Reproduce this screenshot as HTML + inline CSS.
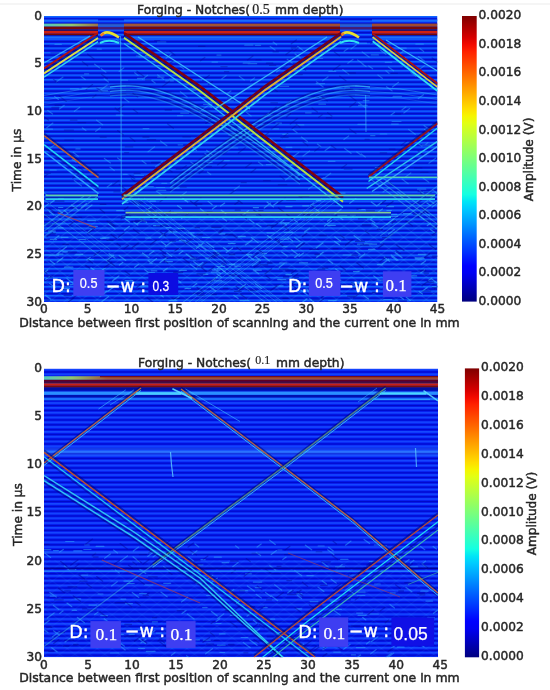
<!DOCTYPE html>
<html><head><meta charset="utf-8"><title>Forging - Notches</title>
<style>html,body{margin:0;padding:0;background:#fff;width:550px;height:690px;overflow:hidden}svg{display:block;filter:blur(0.45px)}</style>
</head><body>
<svg width="550" height="690" viewBox="0 0 550 690" font-family="'DejaVu Sans', 'Liberation Sans', sans-serif">
<defs><linearGradient id="jet" x1="0" y1="0" x2="0" y2="1"><stop offset="0.000" stop-color="#7f0000"/><stop offset="0.025" stop-color="#9c0000"/><stop offset="0.050" stop-color="#b90000"/><stop offset="0.075" stop-color="#d60000"/><stop offset="0.100" stop-color="#f30900"/><stop offset="0.125" stop-color="#ff2100"/><stop offset="0.150" stop-color="#ff3800"/><stop offset="0.175" stop-color="#ff5000"/><stop offset="0.200" stop-color="#ff6700"/><stop offset="0.225" stop-color="#ff7f00"/><stop offset="0.250" stop-color="#ff9700"/><stop offset="0.275" stop-color="#ffae00"/><stop offset="0.300" stop-color="#ffc600"/><stop offset="0.325" stop-color="#ffdd00"/><stop offset="0.350" stop-color="#f6f500"/><stop offset="0.375" stop-color="#e2ff14"/><stop offset="0.400" stop-color="#cdff29"/><stop offset="0.425" stop-color="#b9ff3d"/><stop offset="0.450" stop-color="#a4ff52"/><stop offset="0.475" stop-color="#8fff66"/><stop offset="0.500" stop-color="#7bff7b"/><stop offset="0.525" stop-color="#66ff8f"/><stop offset="0.550" stop-color="#52ffa4"/><stop offset="0.575" stop-color="#3dffb9"/><stop offset="0.600" stop-color="#29ffcd"/><stop offset="0.625" stop-color="#14ffe2"/><stop offset="0.650" stop-color="#00e5f6"/><stop offset="0.675" stop-color="#00cbff"/><stop offset="0.700" stop-color="#00b2ff"/><stop offset="0.725" stop-color="#0099ff"/><stop offset="0.750" stop-color="#007fff"/><stop offset="0.775" stop-color="#0065ff"/><stop offset="0.800" stop-color="#004cff"/><stop offset="0.825" stop-color="#0033ff"/><stop offset="0.850" stop-color="#0019ff"/><stop offset="0.875" stop-color="#0000ff"/><stop offset="0.900" stop-color="#0000f3"/><stop offset="0.925" stop-color="#0000d6"/><stop offset="0.950" stop-color="#0000b9"/><stop offset="0.975" stop-color="#00009c"/><stop offset="1.000" stop-color="#00007f"/></linearGradient>
<pattern id="bg1" patternUnits="userSpaceOnUse" x="0" y="16" width="8" height="4.5"><rect width="8" height="4.5" fill="#0620f6"/><rect y="0" width="8" height="1.5" fill="#1068ff"/><rect y="2.5" width="8" height="1.3" fill="#000cc0"/></pattern>
<pattern id="bg2" patternUnits="userSpaceOnUse" x="0" y="368.6" width="8" height="4.8"><rect width="8" height="4.8" fill="#061cf8"/><rect y="0" width="8" height="1.7" fill="#1448ff"/><rect y="2.7" width="8" height="1.4" fill="#0008c8"/></pattern>
<pattern id="hA" patternUnits="userSpaceOnUse" width="9" height="9" patternTransform="rotate(37)"><rect y="0" width="9" height="1.1" fill="#30c0ff"/></pattern>
<pattern id="hB" patternUnits="userSpaceOnUse" width="9" height="9" patternTransform="rotate(-37)"><rect y="0" width="9" height="1.1" fill="#30c0ff"/></pattern>
<linearGradient id="row1g" gradientUnits="userSpaceOnUse" x1="44" y1="0" x2="438" y2="0"><stop offset="0" stop-color="#50c8c0"/><stop offset="0.07" stop-color="#90c870"/><stop offset="0.16" stop-color="#a05838"/><stop offset="1" stop-color="#a04830"/></linearGradient>
<clipPath id="c1"><rect x="44" y="16" width="393.5" height="286"/></clipPath>
<clipPath id="c2"><rect x="44" y="368.6" width="394" height="288.7"/></clipPath>
</defs>
<rect x="0.00" y="0.00" width="550.00" height="690.00" fill="#ffffff"/>
<rect x="0.00" y="3.40" width="550.00" height="1.20" fill="#eeeeee"/>
<g clip-path="url(#c1)">
<rect x="44.00" y="16.00" width="393.50" height="286.00" fill="url(#bg1)"/>
<rect x="44.00" y="215.00" width="393.50" height="87.00" fill="url(#hA)" fill-opacity="0.15"/>
<rect x="44.00" y="215.00" width="393.50" height="87.00" fill="url(#hB)" fill-opacity="0.15"/>
<path d="M93.0,286.4 L100.8,286.4 M216.9,266.5 L224.8,266.5 M369.0,244.1 L376.8,244.1 M324.4,226.0 L331.4,220.7 M49.7,255.2 L58.4,255.2 M208.1,201.4 L212.1,204.5 M133.7,222.0 L137.8,225.1 M49.7,283.4 L55.2,287.5 M160.0,262.5 L166.7,257.4 M273.7,205.1 L277.9,202.0 M109.1,253.7 L115.1,258.2 M213.6,249.5 L219.9,254.2 M343.1,255.0 L351.4,255.0 M415.6,258.9 L421.9,258.9 M332.8,280.6 L338.0,284.5 M62.7,288.7 L69.5,288.7 M282.9,246.7 L287.1,246.7 M140.8,285.9 L148.1,285.9 M177.6,205.7 L181.4,208.5 M148.3,272.6 L154.5,272.6 M50.2,239.4 L56.4,239.4 M50.3,203.2 L54.1,200.4 M355.9,251.2 L360.0,254.2 M267.0,232.8 L274.2,232.8 M422.7,291.0 L427.1,287.6 M410.6,275.9 L416.7,275.9 M107.9,291.2 L115.0,285.9 M190.7,233.9 L194.7,236.9 M116.7,210.7 L124.1,210.7 M167.8,288.9 L176.3,288.9 M169.0,300.7 L176.9,300.7 M277.3,285.8 L283.1,285.8 M381.8,264.2 L388.8,259.0 M190.2,258.2 L195.3,258.2 M391.1,255.0 L398.0,260.2 M352.1,283.2 L355.3,285.7 M254.0,270.2 L261.3,270.2 M217.4,268.7 L223.1,264.3 M157.6,292.6 L161.4,289.8 M335.7,268.9 L339.6,271.8 M359.4,258.0 L364.7,254.0 M205.8,258.2 L210.1,258.2 M89.2,226.4 L97.3,226.4 M283.4,222.6 L286.6,225.0 M296.3,246.9 L302.3,242.5 M398.7,292.0 L403.0,295.2 M388.5,234.0 L394.4,229.6 M419.4,258.3 L424.2,258.3 M179.0,254.0 L182.9,251.1 M316.2,248.0 L323.1,242.8 M357.5,244.2 L362.3,244.2 M399.8,296.5 L403.5,299.2 M88.4,231.7 L92.6,228.6 M370.5,219.4 L374.9,222.7 M424.5,212.0 L429.7,215.9 M238.6,236.4 L245.3,236.4 M234.8,266.1 L240.7,266.1 M149.9,263.5 L156.6,258.5 M430.7,229.7 L434.6,232.6 M183.1,198.6 L187.8,202.1 M373.8,275.9 L380.2,280.7 M144.8,269.7 L151.5,274.7 M368.6,249.4 L374.9,249.4 M334.7,241.4 L339.4,244.8 M280.0,222.8 L284.1,219.8 M70.2,284.7 L76.8,284.7 M148.1,260.6 L152.2,263.7 M165.4,246.4 L171.7,241.7 M328.4,260.2 L332.7,263.4 M96.0,274.7 L100.7,271.3 M323.8,273.3 L329.4,273.3 M421.1,264.3 L425.7,260.8 M314.2,207.9 L319.0,211.5 M432.1,207.1 L438.5,202.3 M338.2,215.5 L346.8,215.5 M302.7,205.8 L308.6,205.8 M58.6,227.9 L63.1,227.9 M193.8,261.7 L200.9,267.0 M262.3,253.3 L266.6,253.3 M100.1,296.2 L106.7,291.2 M56.7,254.2 L62.9,254.2 M320.8,288.8 L324.1,291.2 M161.4,241.8 L165.6,244.9 M173.8,277.3 L180.8,282.6 M316.6,257.2 L323.3,252.1 M102.5,237.8 L109.1,237.8 M267.0,202.0 L273.5,206.9 M159.1,237.7 L163.6,234.3 M246.7,215.2 L255.3,215.2 M198.9,244.7 L206.0,250.1 M99.7,272.1 L105.1,268.1 M203.6,274.3 L207.9,274.3 M146.4,209.3 L150.7,212.5 M71.6,205.0 L78.2,209.9 M325.1,283.0 L334.1,283.0 M335.2,276.6 L340.5,280.5 M222.2,217.7 L226.6,221.0 M255.0,256.3 L260.4,260.4 M363.7,295.4 L368.5,299.1 M393.5,294.4 L401.8,294.4 M354.1,235.7 L360.3,240.3 M221.2,210.2 L225.8,213.6 M108.4,224.1 L115.0,229.0 M212.0,281.2 L217.2,277.3 M377.9,280.2 L385.3,280.2 M304.5,232.0 L309.7,228.1 M377.6,212.6 L382.4,209.0 M245.5,245.0 L252.3,240.0 M406.2,297.2 L410.4,300.4 M418.3,254.3 L425.3,254.3 M151.4,270.9 L156.8,270.9 M293.6,282.8 L302.1,282.8 M171.5,213.0 L176.2,213.0 M253.3,269.7 L258.8,273.7 M119.1,255.4 L125.8,260.4 M48.4,231.1 L55.4,231.1 M309.6,298.8 L314.1,302.2 M310.3,205.5 L313.8,202.9 M166.6,227.5 L170.9,227.5 M149.4,254.2 L153.9,250.9 M251.4,237.6 L258.2,242.7 M62.8,251.9 L67.7,251.9 M256.7,223.9 L261.0,227.1 M200.3,208.8 L205.0,212.3 M255.3,283.8 L261.4,288.4 M163.3,271.0 L167.2,268.2 M386.7,224.5 L393.2,219.6 M389.5,216.3 L397.8,216.3 M63.3,249.3 L66.6,246.8 M58.7,209.9 L62.4,212.7 M181.6,218.5 L187.9,213.8 M214.7,269.2 L220.4,273.5 M306.9,289.5 L310.8,292.4 M192.9,286.5 L196.8,283.6 M173.1,301.1 L179.0,296.7 M226.3,252.6 L232.6,247.9 M100.7,238.4 L105.3,238.4 M113.1,280.3 L118.9,275.9 M101.9,301.6 L108.4,296.7 M197.0,267.0 L203.1,262.3 M419.1,215.8 L424.7,220.0 M299.1,256.3 L303.3,253.2 M294.7,237.4 L300.1,241.5 M427.3,225.6 L430.5,223.2 M166.8,252.7 L171.8,256.4 M285.9,274.6 L291.6,274.6 M178.3,228.5 L184.6,228.5 M140.2,217.6 L146.7,222.4 M210.1,286.9 L215.7,291.0 M119.3,265.1 L122.8,262.5 M334.7,236.8 L340.7,241.3 M253.3,207.6 L258.5,207.6 M302.1,302.4 L306.7,298.9 M164.7,280.2 L171.7,285.5 M377.4,264.6 L382.7,264.6 M88.8,294.7 L94.9,290.2 M403.5,213.7 L411.1,213.7 M87.7,220.6 L95.5,220.6 M238.3,289.9 L245.4,284.6 M220.6,206.1 L224.7,203.1 M406.0,291.3 L409.5,294.0 M206.8,242.4 L213.8,247.7 M428.5,280.5 L431.9,277.9 M370.3,219.5 L374.1,216.6 M57.4,253.8 L64.5,248.4 M431.5,278.8 L438.1,283.7 M228.3,243.5 L235.2,243.5 M87.0,259.8 L90.3,257.3 M186.1,254.0 L191.8,258.3 M432.3,286.9 L439.3,286.9 M147.0,210.1 L151.3,206.9 M124.3,230.2 L129.4,226.3 M383.7,299.5 L391.8,299.5 M406.4,286.3 L410.2,289.1 M57.1,262.2 L62.9,257.8 M45.8,279.3 L49.4,276.7 M249.7,219.7 L254.0,223.0 M158.4,293.3 L163.3,297.0 M211.3,272.2 L217.0,272.2 M247.2,255.1 L253.6,259.9 M287.8,237.3 L292.7,241.0 M349.7,203.2 L355.9,198.5 M91.0,267.8 L98.0,273.1 M420.7,272.9 L424.7,270.0 M267.7,235.7 L272.1,239.0 M279.6,263.0 L286.8,263.0 M53.6,239.8 L59.0,235.8 M165.5,261.6 L172.4,261.6 M149.9,201.2 L155.4,201.2 M145.6,238.0 L150.7,238.0 M241.8,215.8 L248.7,210.6 M42.2,208.6 L48.3,204.0 M44.7,254.9 L50.4,254.9 M125.0,218.8 L129.4,222.1 M219.1,233.8 L225.1,233.8 M214.5,280.9 L221.8,280.9 M334.1,214.5 L341.1,209.2 M153.5,225.7 L159.6,225.7 M299.4,262.8 L307.7,262.8 M85.6,209.8 L92.0,205.0 M402.4,294.9 L410.2,294.9 M179.3,240.4 L185.6,240.4 M106.8,260.3 L113.5,255.3 M134.7,267.3 L138.6,264.3 M327.4,221.3 L332.1,217.8 M174.2,212.3 L183.0,212.3 M316.3,200.7 L320.8,200.7 M391.8,214.4 L396.9,214.4 M395.2,252.5 L402.0,257.6 M384.4,257.3 L389.5,261.2 M212.4,209.1 L216.4,206.1 M123.0,216.7 L128.9,216.7 M429.5,200.2 L433.9,203.5 M61.2,237.4 L68.0,237.4 M391.8,256.5 L396.9,260.4 M64.6,267.2 L72.9,267.2 M168.8,231.9 L176.9,231.9 M233.7,295.3 L238.1,298.6 M263.7,256.6 L269.4,260.9 M196.5,248.3 L203.0,243.4 M327.6,225.3 L335.3,225.3 M212.6,270.1 L219.9,270.1 M415.0,257.9 L423.9,257.9 M240.0,300.7 L249.0,300.7 M153.6,217.0 L156.8,214.6 M190.5,264.5 L196.6,269.1 M79.2,239.5 L85.4,239.5 M377.6,205.2 L381.6,202.2 M112.3,281.2 L117.7,277.1 M81.5,207.4 L86.5,203.6 M280.4,222.9 L288.5,222.9 M386.9,210.5 L391.4,210.5 M188.7,232.8 L194.1,232.8 M217.0,273.9 L221.5,277.2 M337.7,215.8 L342.9,219.7 M223.6,247.6 L228.4,251.2 M398.0,279.2 L402.5,275.8 M277.7,279.6 L285.9,279.6 M280.8,239.2 L288.3,239.2 M359.0,209.5 L365.1,209.5 M328.5,300.7 L336.2,300.7 M88.8,259.7 L93.5,259.7 M353.5,271.6 L359.1,271.6 M75.9,254.4 L82.7,254.4 M95.4,291.2 L101.1,291.2 M44.3,272.4 L47.7,269.9 M353.8,283.0 L361.7,283.0 M202.5,237.5 L209.3,237.5 M264.2,208.0 L270.6,203.1 M300.8,290.0 L307.1,294.8 M220.2,268.3 L225.5,272.2 M372.1,222.9 L377.9,227.2 M49.3,211.6 L53.7,214.9 M66.9,278.6 L74.0,283.9 M294.7,257.4 L299.5,253.8 M229.1,264.3 L234.6,264.3 M285.8,206.6 L292.1,206.6 M279.3,267.3 L285.2,262.8 M281.7,252.0 L287.2,256.1 M64.2,210.6 L67.5,213.1 M350.9,217.9 L354.7,215.1 M179.5,270.4 L186.3,270.4 M50.4,260.7 L54.7,263.9 M364.0,243.8 L372.2,243.8 M185.0,288.5 L190.6,288.5 M293.1,219.0 L297.4,222.2 M399.7,280.4 L404.8,276.7 M132.5,200.5 L138.9,205.3 M307.0,290.6 L310.5,293.2 M58.6,207.5 L62.8,207.5 M252.2,265.8 L258.8,260.8 M350.3,215.1 L355.5,215.1 M284.2,232.3 L292.8,232.3 M125.2,280.6 L132.7,280.6 M291.6,249.8 L297.9,254.6 M45.3,295.3 L50.4,299.1 M137.0,224.0 L142.6,219.7 M426.9,203.0 L430.4,205.6 M74.8,255.0 L79.8,255.0 M142.5,252.9 L149.2,257.9 M123.8,202.6 L128.1,202.6 M386.2,206.6 L393.6,206.6 M419.1,291.5 L422.4,294.0 M246.6,254.4 L251.4,254.4 M371.3,202.0 L376.8,206.1" stroke="#38b8ff" stroke-width="1.2" fill="none" stroke-opacity="0.55" stroke-linecap="round"/>
<path d="M432.3,287.7 L436.9,287.7 M321.4,297.4 L326.3,293.7 M235.0,204.3 L238.4,201.8 M275.5,238.7 L279.4,241.6 M417.5,203.0 L423.8,198.2 M232.5,234.7 L237.1,238.1 M270.8,290.2 L277.2,285.4 M47.1,277.1 L52.4,277.1 M396.1,250.5 L400.1,253.5 M317.9,269.2 L324.6,269.2 M386.5,206.3 L393.0,201.4 M305.1,285.4 L313.7,285.4 M309.9,249.4 L318.8,249.4 M73.0,217.3 L81.6,217.3 M258.8,210.6 L263.0,210.6 M351.8,282.8 L356.4,286.2 M87.2,290.3 L91.4,290.3 M207.3,211.8 L212.1,211.8 M82.1,294.7 L86.8,291.1 M156.5,225.8 L162.9,225.8 M55.1,201.1 L64.0,201.1 M219.3,233.2 L222.7,230.7 M423.6,209.8 L427.6,212.9 M162.7,225.1 L167.1,225.1 M162.5,235.1 L167.0,231.7 M160.5,232.1 L165.8,236.1 M137.8,202.1 L143.1,202.1 M68.3,207.7 L75.5,207.7 M236.2,286.6 L240.0,289.4 M72.4,298.3 L76.3,295.4 M365.5,231.3 L369.1,234.0 M165.2,294.5 L171.6,289.7 M322.7,268.1 L327.9,268.1 M197.1,234.5 L202.4,234.5 M236.8,247.3 L240.9,250.4 M68.0,252.2 L76.3,252.2 M317.2,277.2 L322.7,273.0 M266.4,276.0 L269.8,278.6 M426.5,282.4 L433.7,282.4 M418.4,216.6 L424.7,211.8 M117.1,243.5 L120.3,246.0 M271.5,227.8 L277.5,223.4 M424.5,257.6 L429.7,253.7 M265.8,239.1 L271.2,239.1 M87.8,278.2 L93.2,274.2 M218.5,232.9 L223.3,229.3 M429.1,244.6 L435.7,249.5 M379.8,261.9 L386.0,257.3 M235.0,273.9 L240.8,278.2 M201.3,266.3 L207.0,262.0 M240.6,294.3 L246.5,298.7 M331.0,219.4 L336.8,215.0 M351.9,288.4 L357.6,288.4 M320.4,287.3 L323.7,284.8 M286.7,214.2 L293.8,219.6 M235.3,210.2 L240.2,210.2 M392.1,223.3 L395.4,220.8 M107.1,221.2 L113.6,226.1 M125.1,271.2 L129.6,274.6 M190.5,259.2 L199.1,259.2 M372.4,292.4 L376.6,292.4 M291.9,278.2 L297.8,273.7 M64.2,295.4 L71.2,295.4 M120.0,287.9 L124.9,291.6 M332.6,273.6 L340.4,273.6 M76.7,282.9 L83.1,282.9 M356.9,208.8 L361.0,208.8 M164.1,215.7 L170.4,210.9 M297.2,248.4 L304.4,243.1 M68.5,301.8 L73.7,298.0 M422.1,285.8 L429.0,280.6 M94.2,255.5 L99.7,251.4 M318.3,277.9 L322.9,274.4 M380.8,204.0 L385.5,200.5 M152.9,293.0 L158.5,288.8 M208.7,270.9 L214.1,266.9 M387.9,281.2 L394.8,281.2 M87.9,233.4 L94.6,228.3 M160.0,249.6 L165.6,253.7 M104.5,267.6 L111.7,262.2 M185.5,243.6 L192.4,238.4 M434.0,228.3 L439.2,224.3 M424.1,273.1 L428.5,273.1 M132.1,201.1 L136.3,204.2 M197.0,273.8 L205.1,273.8 M432.5,256.1 L439.2,256.1 M422.8,208.5 L428.2,212.6 M88.5,225.4 L92.8,228.7 M234.4,291.3 L241.2,291.3 M175.0,250.8 L178.3,248.4 M340.4,285.9 L345.6,285.9 M204.0,211.8 L208.0,214.8 M225.6,234.5 L232.7,234.5 M315.0,254.5 L319.3,254.5 M50.8,233.6 L55.4,233.6 M197.5,295.2 L204.7,295.2 M356.9,262.9 L363.5,267.9 M200.6,267.1 L206.3,271.4 M88.2,259.7 L92.5,262.9 M278.0,203.5 L285.1,198.2 M190.0,254.8 L196.7,259.8 M276.1,240.5 L283.0,245.7 M147.2,297.8 L154.0,302.9 M362.5,225.0 L370.6,225.0 M387.3,237.5 L393.1,233.1 M63.0,244.4 L68.8,244.4 M173.7,272.5 L182.6,272.5 M214.6,257.3 L220.1,253.2 M194.6,202.9 L201.0,198.1 M302.5,236.5 L306.7,233.4 M353.5,297.7 L359.6,293.2 M150.6,244.5 L156.2,240.3 M107.0,240.3 L112.9,240.3 M182.9,217.5 L188.4,213.4 M319.8,235.5 L326.5,235.5 M124.0,248.9 L128.4,245.6 M283.4,277.0 L288.7,277.0 M282.6,225.1 L288.3,229.5 M146.9,210.0 L155.1,210.0 M242.1,253.2 L247.1,253.2 M396.9,245.4 L403.9,250.6 M273.7,288.4 L278.1,285.2 M345.6,245.0 L352.8,239.6 M291.1,284.5 L296.1,288.3 M42.5,216.4 L48.2,216.4 M100.1,209.3 L104.6,212.7 M290.1,285.2 L294.3,282.0 M267.6,263.1 L272.0,263.1 M335.9,204.6 L340.4,201.3 M424.6,220.1 L429.2,220.1 M89.7,227.2 L94.7,227.2 M172.0,298.3 L179.6,298.3 M45.6,300.1 L49.8,300.1 M195.8,266.6 L200.7,266.6 M49.3,208.5 L55.0,212.8 M316.6,284.7 L323.6,279.4 M258.0,249.2 L263.1,253.0 M378.8,247.8 L383.8,244.0 M164.4,260.4 L167.8,262.9 M132.3,247.6 L138.3,243.1 M47.1,236.6 L52.7,232.4 M124.2,209.7 L127.9,207.0 M223.4,288.4 L227.8,288.4 M123.1,218.2 L130.3,212.8 M42.4,270.2 L46.8,273.5 M238.1,291.1 L244.3,286.4 M131.7,221.5 L140.1,221.5 M293.3,277.7 L298.4,277.7 M78.3,281.1 L86.7,281.1 M100.3,204.4 L105.8,204.4 M140.8,218.1 L145.4,221.6 M136.9,287.2 L143.6,282.2 M221.8,264.0 L226.4,264.0 M209.2,258.6 L215.9,253.6 M311.4,205.6 L315.3,208.5 M383.3,285.1 L389.6,289.9 M283.0,298.4 L288.1,298.4 M169.8,241.1 L175.6,241.1 M279.7,269.2 L288.1,269.2 M118.5,237.0 L124.0,232.9 M166.7,277.7 L172.2,273.6 M211.2,294.6 L216.3,294.6 M179.8,238.5 L185.0,242.5 M264.9,273.9 L271.7,268.8 M236.9,199.3 L242.3,203.4 M107.4,261.3 L110.8,258.8 M340.3,235.0 L344.2,237.9 M43.1,223.9 L51.5,223.9 M432.2,235.1 L436.1,232.2 M162.8,254.7 L167.7,258.4 M107.3,260.2 L114.3,265.4 M360.6,245.1 L368.8,245.1 M193.4,293.1 L201.3,293.1 M405.9,221.0 L412.5,225.9 M241.0,214.7 L246.4,218.8 M333.2,248.7 L337.9,248.7 M253.5,256.4 L258.0,253.0 M260.2,264.8 L267.8,264.8 M135.4,220.4 L142.3,220.4 M183.4,258.5 L189.2,262.9 M377.3,229.4 L382.4,229.4 M305.2,219.7 L310.0,216.1 M254.3,267.3 L260.4,262.8 M121.6,216.2 L130.5,216.2 M109.9,222.0 L115.1,225.9 M248.4,290.5 L256.0,290.5 M81.6,270.6 L88.8,276.0 M303.6,214.6 L309.4,214.6 M134.7,199.9 L140.6,204.3 M210.8,282.0 L215.7,278.3 M278.5,207.9 L283.8,211.9 M228.8,274.8 L235.0,274.8 M382.5,237.7 L387.0,237.7 M85.9,265.4 L89.5,268.1 M133.4,229.2 L139.1,233.5 M194.8,204.2 L201.8,204.2 M211.8,227.4 L220.8,227.4 M229.3,254.5 L234.7,254.5 M221.3,258.2 L225.2,261.2 M340.5,266.2 L345.4,269.8 M422.7,291.1 L430.8,291.1 M351.9,255.2 L357.4,255.2 M434.5,288.7 L439.5,284.9 M253.7,210.1 L260.8,215.4 M419.0,270.5 L425.8,270.5 M267.2,225.3 L275.5,225.3 M358.5,218.9 L366.3,218.9 M398.4,301.0 L406.4,301.0 M312.6,299.9 L319.2,299.9 M395.6,279.7 L399.6,279.7 M316.6,304.1 L323.4,299.1 M190.6,201.2 L196.9,205.9 M93.0,289.6 L98.7,285.3 M213.4,252.6 L217.9,252.6 M111.1,234.4 L116.8,238.7 M212.0,258.3 L216.9,254.6 M413.7,214.4 L418.3,214.4 M366.6,210.9 L374.5,210.9 M347.5,296.2 L356.0,296.2 M355.6,241.4 L364.4,241.4 M91.6,275.5 L98.7,280.8 M288.9,287.8 L293.1,291.0 M291.4,273.2 L295.9,269.9 M169.4,229.6 L172.6,232.0 M121.0,218.9 L126.4,214.8 M69.1,225.5 L74.4,221.6 M179.4,229.3 L183.6,229.3 M138.6,288.7 L143.5,288.7 M285.6,270.0 L292.9,270.0 M52.8,225.1 L57.9,221.3 M45.4,214.1 L49.5,214.1 M150.6,218.4 L157.0,218.4 M197.1,287.5 L203.2,292.1 M195.2,227.7 L199.4,227.7 M60.5,285.8 L68.9,285.8" stroke="#000090" stroke-width="1.3" fill="none" stroke-opacity="0.45" stroke-linecap="round"/>
<path d="M432.8,189.9 L438.1,193.9 M55.0,44.4 L61.3,44.4 M391.5,124.1 L398.3,124.1 M104.4,158.4 L110.5,162.9 M234.2,189.9 L239.4,186.0 M107.2,186.9 L111.5,183.7 M117.6,157.9 L121.0,160.5 M54.6,96.5 L58.5,99.4 M415.8,44.1 L423.4,44.1 M362.1,63.7 L366.0,66.6 M58.6,198.4 L63.4,198.4 M283.8,158.8 L288.4,158.8 M166.0,58.2 L171.0,54.5 M97.2,49.1 L101.4,49.1 M356.8,151.9 L361.0,155.1 M136.3,56.0 L141.2,56.0 M246.7,112.6 L251.1,116.0 M397.7,191.8 L403.8,196.4 M270.2,46.4 L275.1,50.0 M279.8,86.3 L288.7,86.3 M47.8,110.4 L52.6,114.0 M72.1,159.3 L76.1,162.3 M223.3,160.6 L229.3,160.6 M50.6,147.8 L56.9,143.1 M180.7,113.1 L188.7,113.1 M157.6,77.1 L164.0,77.1 M308.5,189.1 L314.0,184.9 M182.2,198.2 L186.0,201.1 M74.3,180.6 L81.5,186.0 M157.7,74.9 L163.6,79.3 M388.4,66.9 L393.6,70.8 M342.7,69.6 L348.9,74.2 M357.6,59.9 L363.3,64.2 M264.7,116.2 L268.8,113.2 M232.0,148.0 L237.7,148.0 M94.7,64.2 L99.4,67.8 M43.7,129.2 L52.5,129.2 M160.5,141.0 L166.9,145.8 M371.2,54.9 L378.4,54.9 M375.3,167.7 L382.4,167.7 M221.9,78.8 L226.2,75.5 M363.2,100.7 L369.0,100.7 M403.8,112.9 L409.6,108.6 M81.2,76.6 L85.2,79.5 M383.0,192.0 L389.2,187.4 M286.0,147.3 L291.9,147.3 M418.3,98.6 L423.4,94.7 M420.0,60.3 L424.1,60.3 M402.0,179.0 L408.2,183.7 M98.9,90.6 L107.6,90.6 M121.4,80.2 L127.5,80.2 M137.5,78.4 L144.5,78.4 M344.2,51.3 L348.0,48.5 M347.8,63.2 L353.1,59.3 M343.9,139.5 L348.7,135.9 M219.6,105.9 L226.2,105.9 M70.4,88.9 L78.4,88.9 M180.1,66.3 L183.9,69.1 M424.6,145.2 L428.0,142.6 M231.6,128.0 L235.3,130.8 M385.3,62.4 L391.7,62.4 M84.5,73.9 L88.7,73.9 M285.6,179.9 L292.4,174.8 M124.6,98.7 L129.0,102.0 M197.5,165.2 L203.9,170.1 M317.4,144.1 L320.7,146.6 M370.7,135.7 L374.9,135.7 M316.4,81.8 L323.2,86.9 M205.0,153.4 L210.0,157.2 M316.1,83.6 L324.6,83.6 M253.1,104.8 L258.4,100.8 M344.7,148.5 L351.0,153.3 M177.5,115.7 L182.7,115.7 M116.2,115.1 L123.0,115.1 M157.5,42.0 L165.9,42.0 M165.7,80.9 L173.3,80.9 M207.4,172.1 L210.7,174.6 M100.0,90.5 L107.1,85.2 M318.1,182.0 L323.7,177.8 M134.6,72.8 L138.1,75.4 M286.1,104.5 L291.0,100.7 M228.3,100.8 L233.4,100.8 M362.2,51.9 L369.1,57.1 M318.9,104.2 L325.5,104.2 M127.8,44.0 L134.2,44.0 M82.4,127.9 L85.9,130.6 M180.3,91.8 L187.2,97.0 M392.1,121.5 L401.0,121.5 M380.6,50.3 L385.9,54.3 M56.6,81.8 L63.0,77.1 M398.3,57.7 L405.3,57.7 M116.3,39.2 L121.1,42.8 M297.8,46.4 L303.1,50.4 M401.5,58.4 L406.4,62.1 M424.5,129.5 L429.8,133.5 M292.9,129.6 L297.1,132.7 M424.0,125.6 L429.5,129.7 M418.5,56.6 L424.1,60.8 M313.9,98.0 L321.9,98.0 M358.6,102.6 L365.4,107.7 M216.9,55.1 L221.0,55.1 M423.0,177.9 L428.8,182.2 M134.7,175.3 L143.6,175.3 M361.2,154.0 L365.3,157.0 M380.2,134.0 L386.8,134.0 M405.1,177.2 L410.8,172.9 M119.1,71.4 L123.9,67.8 M386.5,86.7 L392.0,90.8 M417.9,70.5 L424.3,65.7 M419.9,48.6 L423.7,51.5 M357.9,124.3 L365.9,124.3 M295.9,177.4 L299.7,174.5 M328.9,71.4 L335.7,71.4 M292.0,157.6 L298.7,152.6 M331.4,194.8 L337.4,199.2 M393.1,96.4 L401.4,96.4 M266.3,164.6 L271.5,164.6 M171.9,188.1 L179.1,188.1 M418.5,143.8 L421.9,146.3 M207.1,162.5 L212.2,162.5 M396.7,56.2 L403.2,51.3 M301.4,137.1 L307.4,141.6 M239.3,76.2 L244.3,79.9 M143.1,128.7 L148.8,128.7 M417.6,189.2 L425.8,189.2 M82.0,88.1 L88.1,88.1 M191.2,90.2 L196.0,90.2 M142.5,79.2 L147.7,75.3 M110.0,167.2 L114.3,170.5 M391.0,114.9 L394.6,112.3 M96.6,120.2 L102.7,124.8 M350.9,48.9 L356.4,44.8 M408.7,129.4 L415.2,134.3 M151.8,80.6 L155.1,83.1 M398.3,48.2 L406.2,48.2 M156.2,191.0 L162.0,195.3 M388.2,45.9 L392.7,49.3 M192.8,147.6 L196.6,150.4 M282.8,134.4 L287.3,134.4 M324.5,177.9 L330.7,173.2 M255.3,45.3 L260.6,45.3 M41.5,190.8 L47.0,195.0 M138.9,56.9 L145.3,56.9 M155.4,166.7 L162.4,161.4 M180.6,196.3 L186.3,192.0 M295.1,53.9 L300.4,57.9 M287.1,59.3 L292.2,63.1 M101.2,68.7 L105.9,72.2 M227.7,93.3 L230.9,90.9 M123.1,174.3 L127.3,174.3 M73.1,152.3 L78.4,156.2 M75.9,148.9 L80.1,148.9 M371.0,195.1 L379.1,195.1 M392.4,87.0 L398.6,82.3 M303.0,156.1 L309.7,151.0 M295.6,176.9 L299.1,179.5 M428.9,163.2 L435.6,158.2 M194.3,106.9 L200.5,111.5 M142.0,160.8 L146.0,163.8 M74.4,111.3 L79.8,107.3 M410.8,72.5 L415.9,76.3 M419.8,190.8 L423.1,193.3 M295.7,124.9 L303.8,124.9 M368.8,65.9 L372.7,68.8 M418.4,153.9 L421.8,151.3 M276.6,71.9 L280.0,69.3 M279.2,150.7 L284.8,154.9 M250.5,81.0 L254.7,77.8 M325.2,150.6 L330.2,146.8 M201.8,110.3 L207.4,106.1 M339.8,193.1 L345.1,193.1 M157.7,190.4 L165.8,190.4 M258.4,162.1 L262.7,165.3 M272.3,128.9 L278.5,128.9 M145.2,186.6 L153.3,186.6 M422.1,145.2 L430.0,145.2 M302.8,169.4 L308.2,169.4 M146.2,178.6 L150.2,178.6 M273.1,42.1 L276.7,44.8 M208.0,104.8 L211.5,107.4 M401.9,109.9 L406.0,106.8 M148.1,151.8 L154.7,146.8 M377.9,75.0 L382.3,78.3 M290.6,165.6 L295.1,162.2 M276.0,123.2 L281.5,123.2 M46.8,127.7 L52.9,123.1 M385.8,70.8 L389.0,73.3 M196.5,138.2 L202.7,133.5 M270.2,138.5 L276.1,143.0 M358.5,43.2 L366.5,43.2 M305.5,112.8 L311.2,112.8 M145.6,55.4 L153.1,55.4 M206.5,150.3 L212.9,155.2 M95.7,131.3 L100.4,127.8 M238.3,127.0 L246.4,127.0 M169.2,79.0 L177.4,79.0 M212.0,62.1 L217.5,62.1 M248.2,63.7 L256.7,63.7 M59.5,108.9 L64.3,105.3 M190.8,161.9 L194.1,164.4 M344.8,87.9 L349.5,87.9 M318.5,58.5 L322.7,58.5 M328.3,161.3 L335.0,161.3 M322.7,80.8 L328.1,76.8 M244.8,45.2 L252.9,45.2 M228.7,135.0 L236.5,135.0 M156.5,187.5 L164.7,187.5 M50.1,170.2 L56.2,170.2 M178.1,144.8 L182.8,144.8 M155.0,65.6 L159.1,65.6 M161.8,183.3 L166.8,183.3 M243.2,63.2 L250.1,63.2 M104.1,78.8 L108.4,82.0 M203.6,104.3 L212.0,104.3 M358.5,105.3 L367.2,105.3" stroke="#38b8ff" stroke-width="1.2" fill="none" stroke-opacity="0.4" stroke-linecap="round"/>
<path d="M418.1,191.7 L422.3,191.7 M331.4,145.5 L335.8,148.8 M269.6,65.3 L275.8,65.3 M169.3,63.8 L174.6,59.9 M112.4,185.4 L118.7,180.6 M341.9,168.1 L346.5,164.6 M388.9,182.1 L393.9,185.8 M326.3,117.9 L331.4,117.9 M418.1,151.0 L423.3,154.9 M273.3,88.4 L277.4,91.4 M286.0,54.5 L292.5,49.6 M131.4,178.7 L135.0,181.4 M137.0,71.2 L143.7,76.2 M217.5,164.9 L223.6,160.2 M380.2,152.9 L386.6,152.9 M270.9,102.9 L277.5,102.9 M142.9,137.0 L149.0,137.0 M290.3,124.0 L297.5,118.6 M133.4,109.6 L137.6,112.7 M42.9,45.7 L48.9,45.7 M78.6,166.7 L83.2,170.2 M311.5,57.8 L315.9,54.5 M273.0,51.8 L278.4,51.8 M72.8,178.2 L78.6,173.8 M228.7,195.2 L235.1,190.3 M247.5,59.9 L252.9,55.9 M78.0,122.6 L85.6,122.6 M223.0,154.3 L227.8,150.7 M266.5,63.2 L272.8,63.2 M320.6,187.6 L326.6,192.1 M171.2,161.5 L177.1,157.1 M130.1,137.6 L134.9,141.2 M291.3,43.8 L296.3,40.0 M298.2,171.8 L301.4,169.3 M278.4,184.9 L286.8,184.9 M41.9,115.2 L48.5,120.1 M50.9,52.8 L58.7,52.8 M349.7,106.9 L355.6,102.5 M190.3,110.8 L198.6,110.8 M230.1,126.2 L238.7,126.2 M220.9,66.6 L227.1,66.6 M182.1,168.8 L186.2,165.7 M199.2,173.5 L203.8,170.0 M238.3,153.0 L245.3,147.8 M134.2,173.4 L140.1,173.4 M228.2,140.8 L232.7,137.4 M271.8,128.9 L278.9,123.5 M432.2,57.9 L439.1,63.1 M119.3,184.5 L125.8,189.4 M403.0,67.4 L406.6,64.7 M151.5,162.5 L160.4,162.5 M117.6,130.6 L123.4,134.9 M318.8,117.3 L322.2,114.8 M292.2,128.6 L296.2,125.6 M395.1,114.2 L400.6,114.2 M280.1,176.1 L284.1,179.2 M389.4,149.1 L395.0,149.1 M100.3,137.1 L106.2,137.1 M401.2,145.2 L406.4,141.3 M245.8,167.3 L251.4,163.1 M167.7,123.9 L173.4,128.2 M96.2,87.5 L102.1,91.9 M349.1,95.5 L356.1,100.8 M370.7,43.5 L376.6,39.1 M206.6,166.5 L211.4,166.5 M420.6,172.3 L428.0,172.3 M414.6,167.9 L421.8,167.9 M92.7,97.4 L95.9,94.9 M208.4,84.6 L212.5,81.6 M365.1,139.4 L369.2,139.4 M320.9,95.9 L327.5,100.9 M260.3,127.4 L265.3,123.7 M205.8,123.4 L212.6,118.3 M420.6,193.0 L425.4,196.6 M303.1,142.1 L307.9,145.7 M295.1,162.8 L301.9,167.9 M198.6,46.4 L204.9,46.4 M182.8,136.8 L190.5,136.8 M169.3,50.8 L174.9,55.0 M322.8,46.5 L327.3,49.9 M282.7,68.2 L287.1,64.9 M327.6,112.8 L331.9,116.1 M227.7,97.9 L232.6,97.9 M124.6,152.6 L128.6,152.6 M391.3,73.3 L397.4,73.3 M224.5,71.7 L228.7,71.7 M101.7,74.4 L107.4,78.7 M87.7,54.2 L94.0,58.9 M424.1,192.4 L431.1,192.4 M64.7,140.1 L73.5,140.1 M263.6,180.7 L270.2,180.7 M115.1,108.1 L119.9,111.7 M132.9,93.3 L137.7,96.9 M312.7,173.4 L317.7,173.4 M204.5,119.8 L211.1,114.9 M268.0,91.5 L272.3,91.5 M226.7,142.2 L231.4,142.2 M330.6,199.3 L335.5,195.6 M241.3,182.7 L246.2,182.7 M160.0,201.8 L166.1,197.3 M59.2,96.1 L66.3,101.4 M299.4,65.4 L305.8,70.2 M422.7,133.0 L426.8,133.0 M298.0,163.3 L303.1,159.5 M53.6,79.6 L56.9,82.1 M394.8,54.8 L400.6,59.2 M202.6,80.4 L209.3,75.3 M125.3,146.9 L132.7,146.9 M313.6,180.2 L318.6,180.2 M152.4,51.1 L158.9,56.0 M163.6,52.4 L168.7,56.2 M120.3,94.1 L125.8,94.1 M86.1,89.4 L92.5,84.6 M262.8,137.1 L268.5,132.8 M333.2,70.2 L340.1,65.1 M344.2,169.1 L352.1,169.1 M298.3,195.5 L303.4,199.3 M117.0,110.1 L123.6,105.2 M147.3,139.7 L155.6,139.7 M129.9,175.2 L134.9,178.9 M167.1,168.2 L172.1,171.9 M200.5,60.7 L204.8,57.4 M311.8,179.1 L319.5,179.1 M294.1,51.1 L298.2,48.0 M154.7,40.7 L159.7,40.7 M256.1,59.9 L261.0,59.9 M280.9,137.3 L288.1,137.3 M276.1,140.6 L280.4,140.6 M42.3,178.1 L48.5,173.4 M293.6,74.6 L302.3,74.6 M180.4,187.2 L186.1,187.2 M433.0,123.6 L437.6,123.6 M310.0,51.1 L314.9,54.7 M249.4,141.0 L257.8,141.0 M44.9,173.3 L50.2,173.3 M349.7,128.9 L355.9,133.5 M162.4,86.6 L169.6,81.3 M251.0,172.4 L255.8,168.8 M145.5,80.0 L151.0,80.0 M291.3,48.0 L295.8,48.0 M176.1,169.0 L181.2,169.0 M70.4,120.1 L77.0,120.1 M51.9,107.5 L58.6,107.5 M292.7,149.3 L300.1,149.3 M314.8,151.1 L320.1,147.1 M270.9,111.2 L276.2,107.2 M345.9,89.5 L352.9,89.5 M313.1,97.3 L318.5,97.3 M286.7,200.0 L295.5,200.0 M82.4,61.8 L87.7,65.8 M55.1,105.3 L61.5,105.3 M334.3,51.9 L339.4,55.7 M301.1,196.4 L308.8,196.4 M282.2,137.7 L287.7,133.5 M221.9,167.8 L226.8,164.1 M312.0,108.1 L317.4,112.1 M286.3,116.9 L290.5,113.7 M296.0,124.1 L299.8,127.0 M165.2,110.0 L171.4,110.0 M346.9,73.0 L355.5,73.0 M64.4,130.1 L73.4,130.1 M237.0,114.8 L240.8,111.9 M339.8,76.2 L345.9,80.7 M113.9,191.9 L120.2,191.9 M256.3,147.8 L263.5,147.8" stroke="#000090" stroke-width="1.3" fill="none" stroke-opacity="0.35" stroke-linecap="round"/>
<rect x="44.00" y="19.50" width="54.00" height="1.80" fill="#1a6cff"/>
<rect x="44.00" y="23.60" width="54.00" height="3.00" fill="url(#row1g)"/>
<rect x="44.00" y="26.60" width="54.00" height="2.80" fill="#780808"/>
<rect x="44.00" y="29.40" width="54.00" height="1.60" fill="#301060"/>
<rect x="44.00" y="31.00" width="54.00" height="2.70" fill="#d02010"/>
<rect x="44.00" y="33.70" width="54.00" height="1.60" fill="#700808"/>
<rect x="44.00" y="35.30" width="54.00" height="1.00" fill="#0010b0"/>
<rect x="44.00" y="36.30" width="54.00" height="2.20" fill="#1a70ff"/>
<rect x="124.00" y="19.50" width="216.00" height="1.80" fill="#1a6cff"/>
<rect x="124.00" y="23.60" width="216.00" height="3.00" fill="url(#row1g)"/>
<rect x="124.00" y="26.60" width="216.00" height="2.80" fill="#780808"/>
<rect x="124.00" y="29.40" width="216.00" height="1.60" fill="#301060"/>
<rect x="124.00" y="31.00" width="216.00" height="2.70" fill="#d02010"/>
<rect x="124.00" y="33.70" width="216.00" height="1.60" fill="#700808"/>
<rect x="124.00" y="35.30" width="216.00" height="1.00" fill="#0010b0"/>
<rect x="124.00" y="36.30" width="216.00" height="2.20" fill="#1a70ff"/>
<rect x="372.00" y="19.50" width="65.50" height="1.80" fill="#1a6cff"/>
<rect x="372.00" y="23.60" width="65.50" height="3.00" fill="url(#row1g)"/>
<rect x="372.00" y="26.60" width="65.50" height="2.80" fill="#780808"/>
<rect x="372.00" y="29.40" width="65.50" height="1.60" fill="#301060"/>
<rect x="372.00" y="31.00" width="65.50" height="2.70" fill="#d02010"/>
<rect x="372.00" y="33.70" width="65.50" height="1.60" fill="#700808"/>
<rect x="372.00" y="35.30" width="65.50" height="1.00" fill="#0010b0"/>
<rect x="372.00" y="36.30" width="65.50" height="2.20" fill="#1a70ff"/>
<rect x="98.00" y="23.60" width="26.00" height="3.00" fill="#3060c0" fill-opacity="0.8"/>
<rect x="98.00" y="27.00" width="26.00" height="2.50" fill="#602050" fill-opacity="0.7"/>
<rect x="340.00" y="23.60" width="32.00" height="3.00" fill="#3060c0" fill-opacity="0.8"/>
<rect x="340.00" y="27.00" width="32.00" height="2.50" fill="#602050" fill-opacity="0.7"/>
<path d="M110.0,85.6 L113.2,85.2 L116.3,84.9 L119.5,84.7 L122.7,84.5 L125.8,84.5 L129.0,84.5 L132.2,84.7 L135.3,84.9 L138.5,85.2 L141.7,85.7 L144.8,86.2 L148.0,86.7 L151.2,87.4 L154.3,88.2 L157.5,89.0 L160.7,89.9 L163.8,90.9 L167.0,92.0 L170.2,93.1 L173.3,94.3 L176.5,95.6 L179.7,96.9 L182.8,98.3 L186.0,99.7 L189.2,101.2 L192.3,102.8 L195.5,104.4 L198.7,106.0 L201.8,107.7 L205.0,109.4 L208.2,111.2 L211.3,113.0 L214.5,114.9 L217.7,116.8 L220.8,118.7 L224.0,120.6 L227.2,122.6 L230.3,124.6 L233.5,126.6 L236.7,128.7 L239.8,130.8 L243.0,132.9 L246.2,135.0 L249.3,137.1 L252.5,139.3 L255.7,141.5 L258.8,143.7 L262.0,145.9 L265.2,148.2 L268.3,150.4 L271.5,152.7 L274.7,155.0 L277.8,157.3 L281.0,159.6 L284.2,161.9 L287.3,164.2 L290.5,166.6 L293.7,168.9 L296.8,171.3 L300.0,173.6" stroke="#000070" stroke-width="1.6" fill="none" stroke-opacity="0.3"/>
<path d="M110.0,87.1 L113.2,86.7 L116.3,86.4 L119.5,86.2 L122.7,86.0 L125.8,86.0 L129.0,86.0 L132.2,86.2 L135.3,86.4 L138.5,86.7 L141.7,87.2 L144.8,87.7 L148.0,88.2 L151.2,88.9 L154.3,89.7 L157.5,90.5 L160.7,91.4 L163.8,92.4 L167.0,93.5 L170.2,94.6 L173.3,95.8 L176.5,97.1 L179.7,98.4 L182.8,99.8 L186.0,101.2 L189.2,102.7 L192.3,104.3 L195.5,105.9 L198.7,107.5 L201.8,109.2 L205.0,110.9 L208.2,112.7 L211.3,114.5 L214.5,116.4 L217.7,118.3 L220.8,120.2 L224.0,122.1 L227.2,124.1 L230.3,126.1 L233.5,128.1 L236.7,130.2 L239.8,132.3 L243.0,134.4 L246.2,136.5 L249.3,138.6 L252.5,140.8 L255.7,143.0 L258.8,145.2 L262.0,147.4 L265.2,149.7 L268.3,151.9 L271.5,154.2 L274.7,156.5 L277.8,158.8 L281.0,161.1 L284.2,163.4 L287.3,165.7 L290.5,168.1 L293.7,170.4 L296.8,172.8 L300.0,175.1" stroke="#40d0ff" stroke-width="1.3" fill="none" stroke-opacity="0.6"/>
<path d="M170.0,181.8 L173.3,179.3 L176.7,176.8 L180.0,174.2 L183.3,171.7 L186.7,169.3 L190.0,166.8 L193.3,164.3 L196.7,161.9 L200.0,159.4 L203.3,157.0 L206.7,154.6 L210.0,152.2 L213.3,149.8 L216.7,147.4 L220.0,145.1 L223.3,142.7 L226.7,140.4 L230.0,138.1 L233.3,135.9 L236.7,133.6 L240.0,131.4 L243.3,129.2 L246.7,127.0 L250.0,124.9 L253.3,122.8 L256.7,120.7 L260.0,118.6 L263.3,116.6 L266.7,114.7 L270.0,112.7 L273.3,110.8 L276.7,109.0 L280.0,107.1 L283.3,105.4 L286.7,103.7 L290.0,102.0 L293.3,100.4 L296.7,98.9 L300.0,97.4 L303.3,96.0 L306.7,94.6 L310.0,93.3 L313.3,92.1 L316.7,91.0 L320.0,90.0 L323.3,89.0 L326.7,88.1 L330.0,87.3 L333.3,86.6 L336.7,86.0 L340.0,85.5 L343.3,85.1 L346.7,84.8 L350.0,84.6 L353.3,84.5 L356.7,84.5 L360.0,84.6 L363.3,84.8 L366.7,85.1 L370.0,85.5" stroke="#000070" stroke-width="1.6" fill="none" stroke-opacity="0.3"/>
<path d="M170.0,183.3 L173.3,180.8 L176.7,178.3 L180.0,175.7 L183.3,173.2 L186.7,170.8 L190.0,168.3 L193.3,165.8 L196.7,163.4 L200.0,160.9 L203.3,158.5 L206.7,156.1 L210.0,153.7 L213.3,151.3 L216.7,148.9 L220.0,146.6 L223.3,144.2 L226.7,141.9 L230.0,139.6 L233.3,137.4 L236.7,135.1 L240.0,132.9 L243.3,130.7 L246.7,128.5 L250.0,126.4 L253.3,124.3 L256.7,122.2 L260.0,120.1 L263.3,118.1 L266.7,116.2 L270.0,114.2 L273.3,112.3 L276.7,110.5 L280.0,108.6 L283.3,106.9 L286.7,105.2 L290.0,103.5 L293.3,101.9 L296.7,100.4 L300.0,98.9 L303.3,97.5 L306.7,96.1 L310.0,94.8 L313.3,93.6 L316.7,92.5 L320.0,91.5 L323.3,90.5 L326.7,89.6 L330.0,88.8 L333.3,88.1 L336.7,87.5 L340.0,87.0 L343.3,86.6 L346.7,86.3 L350.0,86.1 L353.3,86.0 L356.7,86.0 L360.0,86.1 L363.3,86.3 L366.7,86.6 L370.0,87.0" stroke="#40d0ff" stroke-width="1.3" fill="none" stroke-opacity="0.6"/>
<path d="M44.0,95.5 L90.0,88.0 L125.8,86.0" stroke="#40c0ff" stroke-width="1.1" fill="none" stroke-opacity="0.42"/>
<path d="M355.0,86.0 L400.0,89.0 L437.5,95.0" stroke="#40c0ff" stroke-width="1.1" fill="none" stroke-opacity="0.42"/>
<path d="M110.0,90.1 L113.2,89.7 L116.3,89.4 L119.5,89.2 L122.7,89.0 L125.8,89.0 L129.0,89.0 L132.2,89.2 L135.3,89.4 L138.5,89.7 L141.7,90.2 L144.8,90.7 L148.0,91.2 L151.2,91.9 L154.3,92.7 L157.5,93.5 L160.7,94.4 L163.8,95.4 L167.0,96.5 L170.2,97.6 L173.3,98.8 L176.5,100.1 L179.7,101.4 L182.8,102.8 L186.0,104.2 L189.2,105.7 L192.3,107.3 L195.5,108.9 L198.7,110.5 L201.8,112.2 L205.0,113.9 L208.2,115.7 L211.3,117.5 L214.5,119.4 L217.7,121.3 L220.8,123.2 L224.0,125.1 L227.2,127.1 L230.3,129.1 L233.5,131.1 L236.7,133.2 L239.8,135.3 L243.0,137.4 L246.2,139.5 L249.3,141.6 L252.5,143.8 L255.7,146.0 L258.8,148.2 L262.0,150.4 L265.2,152.7 L268.3,154.9 L271.5,157.2 L274.7,159.5 L277.8,161.8 L281.0,164.1 L284.2,166.4 L287.3,168.7 L290.5,171.1 L293.7,173.4 L296.8,175.8 L300.0,178.1" stroke="#000070" stroke-width="1.6" fill="none" stroke-opacity="0.3"/>
<path d="M110.0,91.6 L113.2,91.2 L116.3,90.9 L119.5,90.7 L122.7,90.5 L125.8,90.5 L129.0,90.5 L132.2,90.7 L135.3,90.9 L138.5,91.2 L141.7,91.7 L144.8,92.2 L148.0,92.7 L151.2,93.4 L154.3,94.2 L157.5,95.0 L160.7,95.9 L163.8,96.9 L167.0,98.0 L170.2,99.1 L173.3,100.3 L176.5,101.6 L179.7,102.9 L182.8,104.3 L186.0,105.7 L189.2,107.2 L192.3,108.8 L195.5,110.4 L198.7,112.0 L201.8,113.7 L205.0,115.4 L208.2,117.2 L211.3,119.0 L214.5,120.9 L217.7,122.8 L220.8,124.7 L224.0,126.6 L227.2,128.6 L230.3,130.6 L233.5,132.6 L236.7,134.7 L239.8,136.8 L243.0,138.9 L246.2,141.0 L249.3,143.1 L252.5,145.3 L255.7,147.5 L258.8,149.7 L262.0,151.9 L265.2,154.2 L268.3,156.4 L271.5,158.7 L274.7,161.0 L277.8,163.3 L281.0,165.6 L284.2,167.9 L287.3,170.2 L290.5,172.6 L293.7,174.9 L296.8,177.3 L300.0,179.6" stroke="#40d0ff" stroke-width="1.3" fill="none" stroke-opacity="0.45"/>
<path d="M170.0,186.3 L173.3,183.8 L176.7,181.3 L180.0,178.7 L183.3,176.2 L186.7,173.8 L190.0,171.3 L193.3,168.8 L196.7,166.4 L200.0,163.9 L203.3,161.5 L206.7,159.1 L210.0,156.7 L213.3,154.3 L216.7,151.9 L220.0,149.6 L223.3,147.2 L226.7,144.9 L230.0,142.6 L233.3,140.4 L236.7,138.1 L240.0,135.9 L243.3,133.7 L246.7,131.5 L250.0,129.4 L253.3,127.3 L256.7,125.2 L260.0,123.1 L263.3,121.1 L266.7,119.2 L270.0,117.2 L273.3,115.3 L276.7,113.5 L280.0,111.6 L283.3,109.9 L286.7,108.2 L290.0,106.5 L293.3,104.9 L296.7,103.4 L300.0,101.9 L303.3,100.5 L306.7,99.1 L310.0,97.8 L313.3,96.6 L316.7,95.5 L320.0,94.5 L323.3,93.5 L326.7,92.6 L330.0,91.8 L333.3,91.1 L336.7,90.5 L340.0,90.0 L343.3,89.6 L346.7,89.3 L350.0,89.1 L353.3,89.0 L356.7,89.0 L360.0,89.1 L363.3,89.3 L366.7,89.6 L370.0,90.0" stroke="#000070" stroke-width="1.6" fill="none" stroke-opacity="0.3"/>
<path d="M170.0,187.8 L173.3,185.3 L176.7,182.8 L180.0,180.2 L183.3,177.7 L186.7,175.3 L190.0,172.8 L193.3,170.3 L196.7,167.9 L200.0,165.4 L203.3,163.0 L206.7,160.6 L210.0,158.2 L213.3,155.8 L216.7,153.4 L220.0,151.1 L223.3,148.7 L226.7,146.4 L230.0,144.1 L233.3,141.9 L236.7,139.6 L240.0,137.4 L243.3,135.2 L246.7,133.0 L250.0,130.9 L253.3,128.8 L256.7,126.7 L260.0,124.6 L263.3,122.6 L266.7,120.7 L270.0,118.7 L273.3,116.8 L276.7,115.0 L280.0,113.1 L283.3,111.4 L286.7,109.7 L290.0,108.0 L293.3,106.4 L296.7,104.9 L300.0,103.4 L303.3,102.0 L306.7,100.6 L310.0,99.3 L313.3,98.1 L316.7,97.0 L320.0,96.0 L323.3,95.0 L326.7,94.1 L330.0,93.3 L333.3,92.6 L336.7,92.0 L340.0,91.5 L343.3,91.1 L346.7,90.8 L350.0,90.6 L353.3,90.5 L356.7,90.5 L360.0,90.6 L363.3,90.8 L366.7,91.1 L370.0,91.5" stroke="#40d0ff" stroke-width="1.3" fill="none" stroke-opacity="0.45"/>
<path d="M44.0,100.0 L90.0,92.5 L125.8,90.5" stroke="#40c0ff" stroke-width="1.1" fill="none" stroke-opacity="0.315"/>
<path d="M355.0,90.5 L400.0,93.5 L437.5,99.5" stroke="#40c0ff" stroke-width="1.1" fill="none" stroke-opacity="0.315"/>
<path d="M110.0,94.6 L113.2,94.2 L116.3,93.9 L119.5,93.7 L122.7,93.5 L125.8,93.5 L129.0,93.5 L132.2,93.7 L135.3,93.9 L138.5,94.2 L141.7,94.7 L144.8,95.2 L148.0,95.7 L151.2,96.4 L154.3,97.2 L157.5,98.0 L160.7,98.9 L163.8,99.9 L167.0,101.0 L170.2,102.1 L173.3,103.3 L176.5,104.6 L179.7,105.9 L182.8,107.3 L186.0,108.7 L189.2,110.2 L192.3,111.8 L195.5,113.4 L198.7,115.0 L201.8,116.7 L205.0,118.4 L208.2,120.2 L211.3,122.0 L214.5,123.9 L217.7,125.8 L220.8,127.7 L224.0,129.6 L227.2,131.6 L230.3,133.6 L233.5,135.6 L236.7,137.7 L239.8,139.8 L243.0,141.9 L246.2,144.0 L249.3,146.1 L252.5,148.3 L255.7,150.5 L258.8,152.7 L262.0,154.9 L265.2,157.2 L268.3,159.4 L271.5,161.7 L274.7,164.0 L277.8,166.3 L281.0,168.6 L284.2,170.9 L287.3,173.2 L290.5,175.6 L293.7,177.9 L296.8,180.3 L300.0,182.6" stroke="#000070" stroke-width="1.6" fill="none" stroke-opacity="0.3"/>
<path d="M110.0,96.1 L113.2,95.7 L116.3,95.4 L119.5,95.2 L122.7,95.0 L125.8,95.0 L129.0,95.0 L132.2,95.2 L135.3,95.4 L138.5,95.7 L141.7,96.2 L144.8,96.7 L148.0,97.2 L151.2,97.9 L154.3,98.7 L157.5,99.5 L160.7,100.4 L163.8,101.4 L167.0,102.5 L170.2,103.6 L173.3,104.8 L176.5,106.1 L179.7,107.4 L182.8,108.8 L186.0,110.2 L189.2,111.7 L192.3,113.3 L195.5,114.9 L198.7,116.5 L201.8,118.2 L205.0,119.9 L208.2,121.7 L211.3,123.5 L214.5,125.4 L217.7,127.3 L220.8,129.2 L224.0,131.1 L227.2,133.1 L230.3,135.1 L233.5,137.1 L236.7,139.2 L239.8,141.3 L243.0,143.4 L246.2,145.5 L249.3,147.6 L252.5,149.8 L255.7,152.0 L258.8,154.2 L262.0,156.4 L265.2,158.7 L268.3,160.9 L271.5,163.2 L274.7,165.5 L277.8,167.8 L281.0,170.1 L284.2,172.4 L287.3,174.7 L290.5,177.1 L293.7,179.4 L296.8,181.8 L300.0,184.1" stroke="#40d0ff" stroke-width="1.3" fill="none" stroke-opacity="0.3"/>
<path d="M170.0,190.8 L173.3,188.3 L176.7,185.8 L180.0,183.2 L183.3,180.7 L186.7,178.3 L190.0,175.8 L193.3,173.3 L196.7,170.9 L200.0,168.4 L203.3,166.0 L206.7,163.6 L210.0,161.2 L213.3,158.8 L216.7,156.4 L220.0,154.1 L223.3,151.7 L226.7,149.4 L230.0,147.1 L233.3,144.9 L236.7,142.6 L240.0,140.4 L243.3,138.2 L246.7,136.0 L250.0,133.9 L253.3,131.8 L256.7,129.7 L260.0,127.6 L263.3,125.6 L266.7,123.7 L270.0,121.7 L273.3,119.8 L276.7,118.0 L280.0,116.1 L283.3,114.4 L286.7,112.7 L290.0,111.0 L293.3,109.4 L296.7,107.9 L300.0,106.4 L303.3,105.0 L306.7,103.6 L310.0,102.3 L313.3,101.1 L316.7,100.0 L320.0,99.0 L323.3,98.0 L326.7,97.1 L330.0,96.3 L333.3,95.6 L336.7,95.0 L340.0,94.5 L343.3,94.1 L346.7,93.8 L350.0,93.6 L353.3,93.5 L356.7,93.5 L360.0,93.6 L363.3,93.8 L366.7,94.1 L370.0,94.5" stroke="#000070" stroke-width="1.6" fill="none" stroke-opacity="0.3"/>
<path d="M170.0,192.3 L173.3,189.8 L176.7,187.3 L180.0,184.7 L183.3,182.2 L186.7,179.8 L190.0,177.3 L193.3,174.8 L196.7,172.4 L200.0,169.9 L203.3,167.5 L206.7,165.1 L210.0,162.7 L213.3,160.3 L216.7,157.9 L220.0,155.6 L223.3,153.2 L226.7,150.9 L230.0,148.6 L233.3,146.4 L236.7,144.1 L240.0,141.9 L243.3,139.7 L246.7,137.5 L250.0,135.4 L253.3,133.3 L256.7,131.2 L260.0,129.1 L263.3,127.1 L266.7,125.2 L270.0,123.2 L273.3,121.3 L276.7,119.5 L280.0,117.6 L283.3,115.9 L286.7,114.2 L290.0,112.5 L293.3,110.9 L296.7,109.4 L300.0,107.9 L303.3,106.5 L306.7,105.1 L310.0,103.8 L313.3,102.6 L316.7,101.5 L320.0,100.5 L323.3,99.5 L326.7,98.6 L330.0,97.8 L333.3,97.1 L336.7,96.5 L340.0,96.0 L343.3,95.6 L346.7,95.3 L350.0,95.1 L353.3,95.0 L356.7,95.0 L360.0,95.1 L363.3,95.3 L366.7,95.6 L370.0,96.0" stroke="#40d0ff" stroke-width="1.3" fill="none" stroke-opacity="0.3"/>
<path d="M44.0,104.5 L90.0,97.0 L125.8,95.0" stroke="#40c0ff" stroke-width="1.1" fill="none" stroke-opacity="0.21"/>
<path d="M355.0,95.0 L400.0,98.0 L437.5,104.0" stroke="#40c0ff" stroke-width="1.1" fill="none" stroke-opacity="0.21"/>
<path d="M120.5,36.0 L121.0,90.0 L121.3,192.0" stroke="#40c8ff" stroke-width="1.1" fill="none" stroke-opacity="0.55"/>
<path d="M365.6,95.0 L366.0,132.0" stroke="#40c8ff" stroke-width="1.1" fill="none" stroke-opacity="0.5"/>
<path d="M101,35.5 Q106,28.5 119,37.5" stroke="#e8e030" stroke-width="2.6" fill="none"/>
<path d="M100.5,35.8 L104.0,33.4" stroke="#f07020" stroke-width="2.4" fill="none" stroke-opacity="0.9"/>
<path d="M100,43 Q109,38.5 119,43" stroke="#30e0f0" stroke-width="2.0" fill="none"/>
<path d="M341,35.5 Q346,28.5 359,37.5" stroke="#e8e030" stroke-width="2.6" fill="none"/>
<path d="M340.5,35.8 L344.0,33.4" stroke="#f07020" stroke-width="2.4" fill="none" stroke-opacity="0.9"/>
<path d="M340,43 Q349,38.5 359,43" stroke="#30e0f0" stroke-width="2.0" fill="none"/>
<path d="M98.0,35.5 L44.0,71.0" stroke="#000070" stroke-width="3.0" fill="none" stroke-opacity="0.5"/>
<path d="M98.0,33.0 L44.0,68.5" stroke="#b01010" stroke-width="1.9" fill="none"/>
<path d="M98.0,38.0 L44.0,73.5" stroke="#e0e040" stroke-width="2.0" fill="none"/>
<path d="M98.0,41.7 L44.0,77.2" stroke="#30d0f0" stroke-width="1.5" fill="none"/>
<path d="M90.0,36.0 L44.0,63.0" stroke="#40c8ff" stroke-width="1.3" fill="none" stroke-opacity="0.75"/>
<path d="M124.0,35.3 L200.0,88.6 L232.7,113.8 L343.0,199.3" stroke="#000070" stroke-width="3.0" fill="none" stroke-opacity="0.6"/>
<path d="M124.0,33.0 L200.0,86.3 L232.7,111.5 L343.0,197.0" stroke="#800010" stroke-width="2.4" fill="none"/>
<path d="M124.0,37.7 L200.0,91.0 L232.7,116.2 L343.0,201.7" stroke="#b8e040" stroke-width="2.0" fill="none"/>
<path d="M124.0,43.5 L200.0,96.8 L232.7,122.0 L343.0,207.5" stroke="#30c8f0" stroke-width="1.4" fill="none" stroke-opacity="0.85"/>
<path d="M138.0,37.0 L250.0,109.0" stroke="#40d0ff" stroke-width="1.4" fill="none" stroke-opacity="0.8"/>
<path d="M341.0,34.8 L265.0,88.1 L232.7,113.3 L122.0,197.3" stroke="#000070" stroke-width="3.0" fill="none" stroke-opacity="0.6"/>
<path d="M341.0,33.0 L265.0,86.3 L232.7,111.5 L122.0,195.5" stroke="#700020" stroke-width="2.4" fill="none"/>
<path d="M341.0,36.8 L265.0,90.1 L232.7,115.3 L122.0,199.3" stroke="#e0b030" stroke-width="1.9" fill="none"/>
<path d="M341.0,41.5 L265.0,94.8 L232.7,120.0 L122.0,204.0" stroke="#30d0f0" stroke-width="1.6" fill="none"/>
<path d="M327.0,37.0 L215.0,109.0" stroke="#40d0ff" stroke-width="1.4" fill="none" stroke-opacity="0.8"/>
<path d="M372.7,35.4 L437.5,85.3" stroke="#000070" stroke-width="3.0" fill="none" stroke-opacity="0.5"/>
<path d="M372.7,33.6 L437.5,83.5" stroke="#b01010" stroke-width="1.8" fill="none"/>
<path d="M372.7,37.2 L437.5,87.1" stroke="#e0d040" stroke-width="1.6" fill="none"/>
<path d="M372.7,41.2 L437.5,91.1" stroke="#30e0f0" stroke-width="1.9" fill="none"/>
<path d="M386.0,40.0 L437.5,71.0" stroke="#40d0ff" stroke-width="1.3" fill="none" stroke-opacity="0.8"/>
<path d="M44.0,133.5 L98.5,175.6" stroke="#000070" stroke-width="2.0" fill="none" stroke-opacity="0.5"/>
<path d="M44.0,135.5 L98.5,177.6" stroke="#c06030" stroke-width="1.4" fill="none"/>
<path d="M44.0,144.5 L98.5,186.6" stroke="#20d8f0" stroke-width="1.5" fill="none"/>
<path d="M44.0,147.0 L98.5,189.1" stroke="#000070" stroke-width="1.4" fill="none" stroke-opacity="0.4"/>
<path d="M44.0,151.5 L98.5,193.6" stroke="#30a8ff" stroke-width="1.4" fill="none" stroke-opacity="0.9"/>
<path d="M437.5,121.5 L368.5,175.0" stroke="#000070" stroke-width="2.0" fill="none" stroke-opacity="0.5"/>
<path d="M437.5,123.5 L368.5,177.0" stroke="#901020" stroke-width="1.9" fill="none"/>
<path d="M437.5,128.0 L368.5,181.5" stroke="#20d8f0" stroke-width="1.5" fill="none"/>
<path d="M437.5,141.3 L366.7,188.5" stroke="#30d0f0" stroke-width="1.5" fill="none" stroke-opacity="0.9"/>
<path d="M437.5,146.4 L372.0,191.5" stroke="#40c0ff" stroke-width="1.3" fill="none" stroke-opacity="0.8"/>
<path d="M45.5,197.2 L98.0,197.2" stroke="#000070" stroke-width="1.6" fill="none" stroke-opacity="0.5"/>
<path d="M45.5,195.3 L98.0,195.3" stroke="#60d0b0" stroke-width="1.8" fill="none"/>
<path d="M45.5,199.1 L98.0,199.1" stroke="#30d0f0" stroke-width="1.7" fill="none"/>
<path d="M123.6,197.2 L435.0,197.2" stroke="#000070" stroke-width="1.6" fill="none" stroke-opacity="0.5"/>
<path d="M123.6,195.3 L435.0,195.3" stroke="#60d0b0" stroke-width="1.8" fill="none"/>
<path d="M123.6,199.1 L435.0,199.1" stroke="#30d0f0" stroke-width="1.7" fill="none"/>
<path d="M125.5,214.9 L391.0,214.9" stroke="#000070" stroke-width="1.6" fill="none" stroke-opacity="0.5"/>
<path d="M125.5,212.7 L391.0,212.7" stroke="#80d090" stroke-width="1.8" fill="none"/>
<path d="M125.5,217.1 L391.0,217.1" stroke="#30d0f0" stroke-width="1.7" fill="none"/>
<path d="M369.0,177.3 L437.5,177.3" stroke="#50d0c0" stroke-width="1.6" fill="none"/>
<path d="M57.6,212.7 L95.8,227.7" stroke="#c04040" stroke-width="1.2" fill="none" stroke-opacity="0.7"/>
<path d="M126.0,198.0 L272.7,308.0" stroke="#40c0ff" stroke-width="1.0" fill="none" stroke-opacity="0.35"/>
<path d="M340.0,198.0 L193.3,308.0" stroke="#40c0ff" stroke-width="1.0" fill="none" stroke-opacity="0.35"/>
<path d="M132.0,198.0 L278.7,308.0" stroke="#40c0ff" stroke-width="1.0" fill="none" stroke-opacity="0.35"/>
<path d="M334.0,198.0 L187.3,308.0" stroke="#40c0ff" stroke-width="1.0" fill="none" stroke-opacity="0.35"/>
<path d="M138.0,198.0 L284.7,308.0" stroke="#40c0ff" stroke-width="1.0" fill="none" stroke-opacity="0.35"/>
<path d="M328.0,198.0 L181.3,308.0" stroke="#40c0ff" stroke-width="1.0" fill="none" stroke-opacity="0.35"/>
<path d="M144.0,198.0 L290.7,308.0" stroke="#40c0ff" stroke-width="1.0" fill="none" stroke-opacity="0.35"/>
<path d="M322.0,198.0 L175.3,308.0" stroke="#40c0ff" stroke-width="1.0" fill="none" stroke-opacity="0.35"/>
<path d="M369.0,178.0 L437.5,229.4" stroke="#40c8f0" stroke-width="1.1" fill="none" stroke-opacity="0.45"/>
<path d="M437.5,186.0 L380.0,229.1" stroke="#40c8f0" stroke-width="1.1" fill="none" stroke-opacity="0.4"/>
<path d="M98.0,196.0 L44.0,236.5" stroke="#40c8f0" stroke-width="1.1" fill="none" stroke-opacity="0.4"/>
<path d="M44.0,200.0 L110.0,249.5" stroke="#40c8f0" stroke-width="1.0" fill="none" stroke-opacity="0.3"/>
<path d="M376.0,178.0 L437.5,224.1" stroke="#40c8f0" stroke-width="1.1" fill="none" stroke-opacity="0.45"/>
<path d="M437.5,193.0 L380.0,236.1" stroke="#40c8f0" stroke-width="1.1" fill="none" stroke-opacity="0.4"/>
<path d="M91.0,196.0 L44.0,231.2" stroke="#40c8f0" stroke-width="1.1" fill="none" stroke-opacity="0.4"/>
<path d="M44.0,207.0 L110.0,256.5" stroke="#40c8f0" stroke-width="1.0" fill="none" stroke-opacity="0.3"/>
<path d="M383.0,178.0 L437.5,218.9" stroke="#40c8f0" stroke-width="1.1" fill="none" stroke-opacity="0.45"/>
<path d="M437.5,200.0 L380.0,243.1" stroke="#40c8f0" stroke-width="1.1" fill="none" stroke-opacity="0.4"/>
<path d="M84.0,196.0 L44.0,226.0" stroke="#40c8f0" stroke-width="1.1" fill="none" stroke-opacity="0.4"/>
<path d="M44.0,214.0 L110.0,263.5" stroke="#40c8f0" stroke-width="1.0" fill="none" stroke-opacity="0.3"/>
</g>
<text x="51.50" y="291.70" font-size="17.5" fill="#ffffff" stroke="#ffffff" stroke-width="0.35" font-family="'DejaVu Sans', 'Liberation Sans', sans-serif">D:</text>
<text x="105.75" y="292.10" font-size="17.5" fill="#ffffff" stroke="#ffffff" stroke-width="0.35" font-family="'DejaVu Sans', 'Liberation Sans', sans-serif">−w :</text>
<rect x="73.30" y="270.00" width="31.20" height="25.80" fill="#3e3ef2"/>
<text transform="translate(79.80,288.30) scale(0.83,1)" font-size="15.3" fill="#ffffff" stroke="#ffffff" stroke-width="0.25" font-family="'Liberation Sans', sans-serif">0.5</text>
<rect x="148.40" y="272.90" width="29.80" height="22.10" fill="#0c0ce2"/>
<text transform="translate(152.40,291.10) scale(0.8,1)" font-size="15.0" fill="#ffffff" stroke="#ffffff" stroke-width="0.25" font-family="'Liberation Sans', sans-serif">0.3</text>
<text x="288.10" y="291.90" font-size="17.5" fill="#ffffff" stroke="#ffffff" stroke-width="0.35" font-family="'DejaVu Sans', 'Liberation Sans', sans-serif">D:</text>
<text x="339.35" y="292.20" font-size="17.5" fill="#ffffff" stroke="#ffffff" stroke-width="0.35" font-family="'DejaVu Sans', 'Liberation Sans', sans-serif">−w :</text>
<rect x="308.80" y="270.70" width="31.60" height="25.30" fill="#3e3ef2"/>
<text transform="translate(315.20,288.30) scale(0.83,1)" font-size="15.3" fill="#ffffff" stroke="#ffffff" stroke-width="0.25" font-family="'Liberation Sans', sans-serif">0.5</text>
<rect x="382.90" y="271.30" width="28.50" height="25.50" fill="#3e3ef2"/>
<text x="385.50" y="290.90" font-size="17" fill="#ffffff" stroke="#ffffff" stroke-width="0.25" font-family="'Liberation Serif', serif">0.1</text>
<text x="42.00" y="19.50" font-size="12.2" fill="#262626" stroke="#262626" stroke-width="0.45" text-anchor="end">0</text>
<text x="42.00" y="67.17" font-size="12.2" fill="#262626" stroke="#262626" stroke-width="0.45" text-anchor="end">5</text>
<text x="42.00" y="114.83" font-size="12.2" fill="#262626" stroke="#262626" stroke-width="0.45" text-anchor="end">10</text>
<text x="42.00" y="162.50" font-size="12.2" fill="#262626" stroke="#262626" stroke-width="0.45" text-anchor="end">15</text>
<text x="42.00" y="210.17" font-size="12.2" fill="#262626" stroke="#262626" stroke-width="0.45" text-anchor="end">20</text>
<text x="42.00" y="257.83" font-size="12.2" fill="#262626" stroke="#262626" stroke-width="0.45" text-anchor="end">25</text>
<text x="42.00" y="305.50" font-size="12.2" fill="#262626" stroke="#262626" stroke-width="0.45" text-anchor="end">30</text>
<text x="44.00" y="313.20" font-size="12.2" fill="#262626" stroke="#262626" stroke-width="0.45" text-anchor="middle">0</text>
<text x="87.72" y="313.20" font-size="12.2" fill="#262626" stroke="#262626" stroke-width="0.45" text-anchor="middle">5</text>
<text x="131.44" y="313.20" font-size="12.2" fill="#262626" stroke="#262626" stroke-width="0.45" text-anchor="middle">10</text>
<text x="175.17" y="313.20" font-size="12.2" fill="#262626" stroke="#262626" stroke-width="0.45" text-anchor="middle">15</text>
<text x="218.89" y="313.20" font-size="12.2" fill="#262626" stroke="#262626" stroke-width="0.45" text-anchor="middle">20</text>
<text x="262.61" y="313.20" font-size="12.2" fill="#262626" stroke="#262626" stroke-width="0.45" text-anchor="middle">25</text>
<text x="306.33" y="313.20" font-size="12.2" fill="#262626" stroke="#262626" stroke-width="0.45" text-anchor="middle">30</text>
<text x="350.06" y="313.20" font-size="12.2" fill="#262626" stroke="#262626" stroke-width="0.45" text-anchor="middle">35</text>
<text x="393.78" y="313.20" font-size="12.2" fill="#262626" stroke="#262626" stroke-width="0.45" text-anchor="middle">40</text>
<text x="437.50" y="313.20" font-size="12.2" fill="#262626" stroke="#262626" stroke-width="0.45" text-anchor="middle">45</text>
<text x="239.40" y="327.00" font-size="12.45" fill="#262626" stroke="#262626" stroke-width="0.45" text-anchor="middle">Distance between first position of scanning and the current one in mm</text>
<text transform="translate(21.20,160.00) rotate(-90)" text-anchor="middle" font-size="12.2" fill="#262626" stroke="#262626" stroke-width="0.45">Time in μs</text>
<text x="137.00" y="13.60" font-size="12.3" fill="#262626" stroke="#262626" stroke-width="0.45">Forging - Notches(</text>
<text x="252.20" y="13.60" font-size="14" fill="#222" stroke="#222" stroke-width="0.2" font-family="'Liberation Serif', serif">0.5</text>
<text x="275.00" y="13.60" font-size="12.3" fill="#262626" stroke="#262626" stroke-width="0.45">mm depth)</text>
<rect x="462" y="16" width="14.70" height="285.60" fill="url(#jet)"/>
<text x="478.50" y="19.30" font-size="12.2" fill="#262626" stroke="#262626" stroke-width="0.45">0.0020</text>
<text x="478.50" y="47.86" font-size="12.2" fill="#262626" stroke="#262626" stroke-width="0.45">0.0018</text>
<text x="478.50" y="76.42" font-size="12.2" fill="#262626" stroke="#262626" stroke-width="0.45">0.0016</text>
<text x="478.50" y="104.98" font-size="12.2" fill="#262626" stroke="#262626" stroke-width="0.45">0.0014</text>
<text x="478.50" y="133.54" font-size="12.2" fill="#262626" stroke="#262626" stroke-width="0.45">0.0012</text>
<text x="478.50" y="162.10" font-size="12.2" fill="#262626" stroke="#262626" stroke-width="0.45">0.0010</text>
<text x="478.50" y="190.66" font-size="12.2" fill="#262626" stroke="#262626" stroke-width="0.45">0.0008</text>
<text x="478.50" y="219.22" font-size="12.2" fill="#262626" stroke="#262626" stroke-width="0.45">0.0006</text>
<text x="478.50" y="247.78" font-size="12.2" fill="#262626" stroke="#262626" stroke-width="0.45">0.0004</text>
<text x="478.50" y="276.34" font-size="12.2" fill="#262626" stroke="#262626" stroke-width="0.45">0.0002</text>
<text x="478.50" y="304.90" font-size="12.2" fill="#262626" stroke="#262626" stroke-width="0.45">0.0000</text>
<text transform="translate(533.00,159.40) rotate(-90)" text-anchor="middle" font-size="12.1" fill="#262626" stroke="#262626" stroke-width="0.45">Amplitude (V)</text>
<g clip-path="url(#c2)">
<rect x="44.00" y="368.60" width="394.00" height="288.70" fill="url(#bg2)"/>
<rect x="44.00" y="560.00" width="394.00" height="98.00" fill="url(#hA)" fill-opacity="0.08"/>
<rect x="44.00" y="560.00" width="394.00" height="98.00" fill="url(#hB)" fill-opacity="0.08"/>
<path d="M65.7,541.5 L73.9,541.5 M305.4,545.2 L311.7,549.8 M323.0,649.8 L327.8,646.3 M410.4,643.1 L414.9,643.1 M420.8,591.2 L428.0,591.2 M322.0,562.3 L328.5,567.2 M59.7,613.4 L63.1,610.8 M388.5,657.0 L393.7,653.1 M72.2,610.4 L76.4,610.4 M282.8,559.6 L286.2,557.1 M419.4,643.4 L424.1,646.9 M240.0,590.6 L247.6,590.6 M425.9,601.1 L432.6,601.1 M269.7,540.2 L275.3,544.5 M139.5,593.5 L146.4,593.5 M163.7,583.3 L170.7,583.3 M345.5,545.2 L351.0,541.1 M129.1,634.3 L134.3,634.3 M390.1,592.9 L395.2,592.9 M115.1,634.6 L123.3,634.6 M358.0,615.3 L366.1,615.3 M156.3,633.1 L161.7,633.1 M205.1,588.0 L213.7,588.0 M245.6,573.9 L251.3,573.9 M247.4,585.9 L254.3,591.1 M140.9,643.0 L146.0,639.2 M381.2,545.9 L386.5,545.9 M206.7,595.5 L214.6,595.5 M75.1,598.9 L80.7,598.9 M296.0,608.8 L301.8,608.8 M89.0,605.2 L96.5,605.2 M111.5,585.9 L117.2,581.7 M356.6,613.1 L362.7,613.1 M317.9,587.1 L323.9,591.6 M253.4,620.2 L256.9,622.9 M59.7,552.1 L63.3,549.4 M370.7,653.8 L376.2,649.6 M196.1,583.1 L202.1,583.1 M104.2,618.7 L110.4,623.4 M230.3,615.4 L238.8,615.4 M115.3,569.9 L119.3,572.9 M203.3,640.1 L210.3,640.1 M50.2,596.2 L56.1,596.2 M169.0,632.2 L172.8,629.4 M306.0,652.5 L314.2,652.5 M73.8,550.9 L81.9,550.9 M270.6,619.2 L274.7,619.2 M232.7,566.7 L238.2,562.6 M256.3,552.4 L260.6,555.6 M391.8,647.9 L395.3,645.3 M296.3,593.7 L301.9,593.7 M323.4,630.5 L328.7,626.5 M144.6,585.0 L152.9,585.0 M138.5,630.2 L144.3,630.2 M255.0,632.3 L259.7,628.8 M336.6,609.4 L341.4,609.4 M52.5,636.7 L59.2,631.7 M42.0,628.2 L47.9,632.6 M222.1,562.7 L228.8,562.7 M93.9,632.9 L101.0,632.9 M133.3,551.1 L138.6,547.1 M408.6,642.9 L413.6,639.2 M84.8,545.0 L89.2,545.0 M160.9,592.1 L167.1,596.8 M395.5,624.4 L401.3,624.4 M98.0,594.0 L103.0,594.0 M201.0,559.7 L205.1,559.7 M235.5,545.8 L238.8,548.2 M318.1,546.0 L324.2,546.0 M422.6,564.3 L426.2,567.0 M149.9,634.3 L154.9,630.5 M139.3,568.8 L145.7,573.6 M77.4,617.4 L84.5,622.7 M53.5,550.6 L58.4,550.6 M299.8,647.1 L303.8,644.1 M356.3,647.6 L365.0,647.6 M49.9,592.4 L56.2,597.1 M217.4,645.2 L225.1,645.2 M83.8,549.5 L91.0,549.5 M100.7,615.6 L107.6,615.6 M278.8,632.5 L285.5,632.5 M120.7,643.5 L124.3,646.1 M276.2,634.1 L280.2,637.1 M328.5,547.3 L333.1,550.8 M123.9,581.1 L132.9,581.1 M385.8,657.8 L391.5,653.6 M205.6,653.8 L212.4,648.7 M345.1,590.4 L352.3,585.0 M410.3,563.0 L413.9,560.3 M247.0,616.2 L250.3,613.7 M211.3,582.8 L217.4,578.1 M81.7,575.1 L87.8,575.1 M188.6,557.3 L193.0,560.6 M253.4,582.2 L261.7,582.2 M45.3,553.4 L50.6,557.4 M351.4,654.9 L355.6,654.9 M212.6,578.4 L216.1,581.0 M163.6,566.6 L170.0,571.4 M241.1,637.5 L247.9,637.5 M47.3,618.0 L54.1,612.9 M303.0,646.5 L309.4,651.3 M219.9,652.5 L224.7,652.5 M53.4,605.4 L58.8,609.4 M321.7,645.6 L325.3,648.3 M243.3,642.4 L250.3,647.7 M404.4,563.0 L409.1,559.5 M146.4,651.4 L155.1,651.4 M153.0,557.0 L157.2,553.9 M370.2,614.0 L378.3,614.0 M420.6,546.5 L424.8,549.7 M257.1,547.1 L261.2,544.0 M96.1,546.4 L103.9,546.4 M366.4,643.9 L369.8,641.3 M192.3,554.3 L197.0,550.8 M265.5,592.4 L270.8,596.4 M110.6,653.0 L118.8,653.0 M310.2,601.6 L318.0,601.6 M214.3,557.2 L221.3,557.2 M147.7,556.4 L152.9,552.5 M294.7,570.5 L301.8,575.8 M249.8,639.9 L257.0,645.3 M65.0,642.0 L69.8,638.5 M322.1,580.8 L326.5,584.1 M187.4,613.9 L194.1,619.0 M127.1,583.5 L134.2,583.5 M216.1,621.4 L219.8,618.7 M277.9,550.0 L282.0,550.0 M369.3,561.5 L374.7,561.5 M211.4,611.6 L217.3,615.9 M433.1,546.5 L436.4,549.0 M51.8,647.7 L57.1,651.7 M132.2,592.5 L138.8,597.5 M427.6,617.6 L434.3,617.6 M395.9,553.6 L401.2,557.6 M343.6,649.2 L350.2,644.3 M198.0,564.9 L202.9,564.9 M191.3,639.9 L199.5,639.9 M271.2,554.6 L276.5,550.6 M331.1,579.2 L336.2,583.1 M167.5,625.0 L172.4,625.0 M202.6,607.6 L207.1,607.6 M121.0,599.2 L125.8,599.2 M404.4,641.9 L411.0,641.9 M229.7,592.5 L234.0,589.3 M337.2,568.3 L342.2,564.6 M340.7,559.4 L348.0,559.4 M195.0,544.0 L198.8,546.9 M120.3,561.3 L127.4,555.9 M104.6,558.2 L110.3,553.9 M42.8,549.7 L50.8,549.7 M433.5,613.3 L437.8,610.1 M152.5,621.9 L157.4,621.9 M171.4,655.3 L175.0,652.6 M357.7,592.2 L365.0,592.2 M219.4,633.9 L225.1,633.9 M156.2,542.9 L160.3,542.9 M330.7,601.2 L336.9,601.2 M287.8,592.8 L291.5,590.1 M186.5,655.8 L190.1,658.6 M138.5,648.5 L144.6,648.5 M42.5,625.6 L49.2,620.6 M306.9,575.7 L313.2,575.7 M94.5,614.7 L98.1,612.1 M422.1,563.8 L425.6,561.1 M405.9,587.2 L411.9,591.7 M333.8,652.2 L340.2,652.2 M64.3,566.0 L69.8,570.2 M113.6,550.0 L117.5,553.0 M389.9,604.5 L394.5,608.0 M330.4,629.8 L335.1,626.4 M327.6,549.8 L333.9,554.5 M207.8,578.9 L212.8,575.2 M150.8,550.1 L159.3,550.1 M409.2,566.9 L417.7,566.9 M125.6,603.6 L132.4,603.6 M397.3,647.2 L404.1,647.2 M120.8,646.6 L125.2,649.9 M176.6,559.9 L182.3,559.9 M255.2,587.7 L260.9,587.7 M347.7,589.0 L353.9,593.7 M107.9,639.4 L114.3,639.4 M374.5,584.0 L380.3,584.0 M256.1,594.3 L261.3,598.1 M110.3,633.3 L115.6,633.3 M371.2,641.7 L377.9,636.7 M354.6,659.4 L360.5,655.0 M333.9,610.4 L340.2,615.1 M94.6,627.9 L101.0,623.1 M132.9,556.8 L139.7,561.9 M274.6,584.8 L281.6,590.1 M236.5,603.3 L241.7,599.4 M349.4,575.0 L357.6,575.0 M216.0,623.5 L221.0,623.5 M263.2,607.6 L267.2,607.6 M362.7,617.5 L365.9,619.9 M271.1,595.7 L277.7,600.7 M67.0,603.1 L71.7,606.6 M269.8,565.7 L275.8,570.2 M335.5,566.8 L344.5,566.8 M138.9,638.7 L145.4,643.6 M408.3,624.1 L413.9,619.8 M162.4,555.9 L166.3,553.0 M374.3,545.0 L379.6,545.0 M181.4,601.9 L187.6,597.2 M182.0,613.6 L186.1,610.5 M297.6,595.5 L301.6,598.5 M217.7,618.4 L223.9,613.8 M53.5,630.8 L59.2,635.1 M357.2,595.5 L364.9,595.5 M104.5,643.0 L110.8,638.3 M364.1,539.4 L369.6,543.5 M68.1,569.7 L75.9,569.7" stroke="#38b8ff" stroke-width="1.2" fill="none" stroke-opacity="0.45" stroke-linecap="round"/>
<path d="M135.4,602.1 L140.1,605.6 M433.0,592.7 L439.6,597.6 M100.0,612.0 L106.7,617.0 M53.7,643.4 L58.8,639.6 M193.3,579.1 L198.8,583.2 M309.4,651.4 L316.0,646.5 M104.7,643.6 L111.8,638.3 M64.5,640.2 L73.5,640.2 M203.5,559.3 L207.9,556.0 M295.0,607.8 L300.4,611.9 M287.5,594.7 L294.9,594.7 M333.1,541.3 L336.5,543.9 M316.2,551.9 L321.8,551.9 M214.3,640.4 L219.2,640.4 M412.1,640.5 L419.2,645.9 M406.3,568.4 L412.5,563.7 M271.9,573.7 L280.0,573.7 M313.9,650.9 L320.7,645.8 M46.7,627.4 L51.6,627.4 M117.7,602.7 L125.8,602.7 M403.1,634.5 L411.2,634.5 M92.2,555.9 L95.7,553.3 M388.2,651.6 L392.9,648.1 M145.5,595.8 L149.1,593.1 M390.7,635.2 L396.5,630.8 M82.6,608.9 L86.6,608.9 M51.4,640.1 L55.1,637.3 M342.6,600.0 L350.2,600.0 M410.0,545.5 L414.5,548.9 M137.3,559.5 L141.5,562.7 M73.3,596.0 L80.4,601.3 M336.1,645.5 L341.4,649.5 M131.1,621.1 L139.9,621.1 M276.7,597.4 L283.3,592.5 M230.3,622.1 L236.9,627.0 M419.8,594.8 L424.9,594.8 M142.9,564.2 L148.9,559.7 M142.2,639.8 L146.7,643.1 M346.1,627.2 L350.5,630.5 M358.5,573.5 L364.7,568.8 M252.0,553.3 L258.5,553.3 M309.4,605.0 L313.3,607.9 M110.9,644.4 L118.2,644.4 M96.7,576.6 L102.7,581.2 M148.7,553.1 L152.4,550.3 M114.4,564.0 L119.3,560.4 M249.4,606.7 L254.4,606.7 M258.9,610.5 L264.6,606.2 M159.4,639.0 L164.5,642.8 M295.8,594.2 L301.2,590.1 M385.1,622.9 L388.8,620.1 M405.4,624.0 L413.1,624.0 M237.2,620.0 L242.5,624.0 M277.0,566.3 L281.0,566.3 M286.9,580.6 L291.6,580.6 M280.9,651.0 L285.4,651.0 M86.9,584.0 L91.4,587.4 M109.7,629.1 L115.9,624.5 M404.8,582.6 L410.9,582.6 M231.4,573.1 L235.3,570.2 M320.8,585.4 L327.2,585.4 M134.6,641.1 L140.3,636.8 M68.0,586.8 L76.8,586.8 M422.4,563.8 L427.8,567.9 M72.9,636.8 L77.5,636.8 M367.9,614.4 L373.7,610.0 M177.2,610.7 L183.5,610.7 M259.3,624.4 L264.2,628.1 M75.2,567.0 L79.1,564.1 M341.0,624.8 L348.1,619.5 M390.7,634.7 L396.1,634.7 M60.7,561.6 L66.9,566.3 M58.5,588.2 L64.2,592.5 M360.7,570.4 L364.4,567.6 M246.3,558.6 L250.2,561.5 M257.2,586.1 L261.8,589.6 M203.0,642.3 L209.5,637.4 M132.8,562.1 L136.3,564.8 M397.2,558.2 L404.3,563.6 M93.4,557.0 L98.1,557.0 M70.8,565.1 L77.8,559.9 M137.4,578.9 L144.4,584.2 M165.1,544.2 L169.7,540.8 M369.4,565.6 L375.0,561.4 M120.2,543.6 L127.3,548.9 M85.8,544.1 L92.5,539.1 M188.8,575.6 L193.5,579.1 M408.8,641.1 L416.9,641.1 M285.0,550.0 L289.9,546.3 M125.2,601.8 L131.9,606.9 M168.7,571.9 L172.0,574.4 M251.3,628.9 L257.8,624.1 M228.6,644.4 L234.0,644.4 M428.0,619.8 L431.5,622.4 M394.1,635.2 L398.7,638.6 M389.4,563.7 L395.3,563.7 M64.8,590.8 L70.4,590.8 M124.8,636.5 L133.5,636.5 M194.7,560.8 L200.0,560.8 M176.0,551.5 L180.1,554.6 M138.7,620.5 L142.8,623.6 M110.9,626.3 L115.6,629.9 M289.8,593.2 L293.2,590.6 M235.0,609.5 L239.3,606.3 M127.0,635.9 L135.9,635.9 M230.6,561.0 L238.1,561.0 M254.0,639.4 L259.0,643.1 M366.8,565.2 L370.4,562.5 M159.9,642.1 L166.7,647.2 M370.6,627.7 L376.1,627.7 M315.9,606.0 L321.8,606.0 M148.5,576.9 L157.2,576.9 M266.6,599.9 L271.6,599.9 M351.3,626.0 L359.8,626.0 M187.6,639.8 L193.8,644.4 M210.4,632.8 L214.6,635.9 M339.2,601.9 L346.2,596.6 M188.1,547.1 L193.5,543.1 M332.3,555.5 L337.7,559.5 M79.0,575.0 L84.5,579.1 M265.1,568.8 L271.3,573.5 M355.2,600.0 L358.8,597.3 M343.4,599.6 L350.5,599.6 M243.9,652.9 L247.9,652.9 M225.3,610.6 L229.4,610.6 M143.1,595.5 L148.3,595.5 M128.5,565.3 L132.5,568.3 M239.7,590.8 L244.7,590.8 M323.8,648.8 L327.8,645.8 M323.0,656.3 L326.8,653.5 M87.7,609.8 L96.4,609.8 M398.7,591.0 L403.5,591.0 M48.4,651.3 L54.0,651.3 M158.0,640.9 L164.9,635.7 M69.4,569.4 L74.4,569.4 M63.5,646.1 L68.8,646.1 M395.7,585.0 L400.2,588.5 M139.4,554.6 L146.3,554.6 M321.4,561.8 L330.3,561.8 M190.2,550.2 L196.5,554.9 M73.6,644.5 L78.0,644.5 M152.5,617.7 L156.6,617.7 M54.5,599.9 L63.2,599.9 M115.2,602.9 L124.0,602.9 M92.1,637.5 L97.1,641.2 M246.3,621.9 L251.9,621.9 M348.3,576.0 L351.8,573.4 M80.0,581.2 L87.0,581.2 M297.1,591.6 L302.9,595.9 M417.7,593.4 L424.6,593.4 M58.8,632.7 L64.4,632.7 M44.3,544.4 L49.1,544.4 M211.2,623.6 L214.6,621.1 M333.8,589.0 L340.5,584.0 M305.0,645.4 L311.2,640.8 M420.3,645.8 L425.8,641.7 M105.8,639.5 L112.3,634.6 M194.8,564.2 L202.1,564.2 M267.4,636.9 L273.2,636.9 M302.3,582.3 L307.7,586.4 M244.1,576.2 L251.2,570.8 M150.6,565.1 L156.7,560.5 M124.8,624.5 L131.4,624.5 M266.1,648.7 L271.9,653.1 M284.7,554.7 L291.3,554.7 M206.6,644.1 L213.7,644.1 M181.0,645.2 L187.0,645.2 M380.2,610.9 L384.8,607.5" stroke="#000090" stroke-width="1.3" fill="none" stroke-opacity="0.4" stroke-linecap="round"/>
<rect x="44.00" y="376.20" width="394.00" height="3.60" fill="url(#row1g)"/>
<rect x="100.00" y="376.00" width="338.00" height="1.30" fill="#700010" fill-opacity="0.8"/>
<rect x="44.00" y="379.80" width="394.00" height="2.00" fill="#600020"/>
<rect x="44.00" y="381.80" width="394.00" height="1.60" fill="#401040"/>
<rect x="44.00" y="383.40" width="394.00" height="2.40" fill="#c82010"/>
<rect x="44.00" y="385.80" width="394.00" height="1.80" fill="#701010"/>
<rect x="44.00" y="387.60" width="394.00" height="2.90" fill="#0010a0"/>
<rect x="44.00" y="391.50" width="394.00" height="3.30" fill="#2a90ff"/>
<rect x="44.00" y="395.00" width="394.00" height="2.60" fill="#0010b0"/>
<rect x="44.00" y="397.80" width="394.00" height="2.50" fill="#1a70ff"/>
<rect x="44.00" y="447.50" width="394.00" height="8.00" fill="#2a70ff" fill-opacity="0.45"/>
<path d="M44.0,452.0 L438.0,452.0" stroke="#40a0ff" stroke-width="1.2" fill="none" stroke-opacity="0.8"/>
<path d="M44.0,568.3 L438.0,568.3" stroke="#000090" stroke-width="1.5" fill="none" stroke-opacity="0.8"/>
<path d="M44.0,571.2 L438.0,571.2" stroke="#2a90ff" stroke-width="1.4" fill="none" stroke-opacity="0.7"/>
<path d="M44.0,553.0 L438.0,553.0" stroke="#40a0ff" stroke-width="1.0" fill="none" stroke-opacity="0.5"/>
<path d="M170.5,452.0 L171.5,465.0 L173.0,477.0" stroke="#60d0ff" stroke-width="1.2" fill="none" stroke-opacity="0.8"/>
<path d="M415.5,448.0 L416.5,467.0" stroke="#60d0ff" stroke-width="1.2" fill="none" stroke-opacity="0.7"/>
<path d="M380.0,393.5 L426.0,393.5" stroke="#50e0ff" stroke-width="2.0" fill="none" stroke-opacity="0.9"/>
<path d="M375.0,399.5 L430.0,399.5" stroke="#40b0ff" stroke-width="1.2" fill="none" stroke-opacity="0.6"/>
<path d="M136.0,393.5 L181.0,393.5" stroke="#50d8ff" stroke-width="2.6" fill="none" stroke-opacity="0.85"/>
<path d="M141.0,386.4 L44.0,461.4" stroke="#000070" stroke-width="1.6" fill="none" stroke-opacity="0.5"/>
<path d="M141.0,388.0 L44.0,463.0" stroke="#b86838" stroke-width="1.3" fill="none"/>
<path d="M141.0,390.4 L44.0,465.4" stroke="#40d0e8" stroke-width="1.0" fill="none" stroke-opacity="0.85"/>
<path d="M125.8,389.8 L98.5,409.0" stroke="#40c0ff" stroke-width="1.0" fill="none" stroke-opacity="0.6"/>
<path d="M134.0,389.8 L110.0,405.0" stroke="#40c0ff" stroke-width="1.0" fill="none" stroke-opacity="0.5"/>
<path d="M181.0,387.4 L283.6,465.4 L352.7,518.4 L424.4,580.2 L438.0,591.4" stroke="#000070" stroke-width="1.6" fill="none" stroke-opacity="0.5"/>
<path d="M181.0,389.0 L283.6,467.0 L352.7,520.0 L424.4,581.8 L438.0,593.0" stroke="#b86838" stroke-width="1.3" fill="none"/>
<path d="M181.0,391.4 L283.6,469.4 L352.7,522.4 L424.4,584.2 L438.0,595.4" stroke="#40d0e8" stroke-width="1.0" fill="none" stroke-opacity="0.85"/>
<path d="M185.5,389.0 L240.0,421.5" stroke="#40c0ff" stroke-width="1.0" fill="none" stroke-opacity="0.6"/>
<path d="M172.4,388.7 L192.0,398.5" stroke="#60e0ff" stroke-width="1.6" fill="none" stroke-opacity="0.9"/>
<path d="M385.6,386.4 L283.6,465.2 L240.0,497.9 L152.7,563.4" stroke="#000070" stroke-width="1.6" fill="none" stroke-opacity="0.5"/>
<path d="M385.6,388.0 L283.6,466.8 L240.0,499.5 L152.7,565.0" stroke="#508878" stroke-width="1.3" fill="none"/>
<path d="M385.6,390.4 L283.6,469.2 L240.0,501.9 L152.7,567.4" stroke="#40d0e8" stroke-width="1.0" fill="none" stroke-opacity="0.85"/>
<path d="M152.7,565.0 L44.0,646.5" stroke="#40c0e0" stroke-width="1.1" fill="none" stroke-opacity="0.45"/>
<path d="M377.0,388.0 L358.0,402.0" stroke="#40c0ff" stroke-width="1.0" fill="none" stroke-opacity="0.5"/>
<path d="M423.5,390.7 L438.0,401.0" stroke="#60e0ff" stroke-width="1.5" fill="none" stroke-opacity="0.85"/>
<path d="M44.0,450.3 L240.0,598.0 L315.3,655.3" stroke="#000070" stroke-width="2.0" fill="none" stroke-opacity="0.5"/>
<path d="M44.0,452.3 L240.0,600.0 L315.3,657.3" stroke="#c05028" stroke-width="1.4" fill="none"/>
<path d="M44.0,456.8 L240.0,604.5 L315.3,661.8" stroke="#20d8f0" stroke-width="1.2" fill="none" stroke-opacity="0.9"/>
<path d="M44.0,459.3 L240.0,607.0 L315.3,664.3" stroke="#000070" stroke-width="1.4" fill="none" stroke-opacity="0.4"/>
<path d="M44.0,477.7 L134.0,534.2 L200.0,580.2 L246.0,624.2 L283.0,659.5" stroke="#000070" stroke-width="1.5" fill="none" stroke-opacity="0.45"/>
<path d="M44.0,475.5 L134.0,532.0 L200.0,578.0 L246.0,622.0 L283.0,657.3" stroke="#30d0f0" stroke-width="1.4" fill="none" stroke-opacity="0.95"/>
<path d="M44.0,482.9 L134.0,539.4 L200.0,585.4 L246.0,627.3 L283.0,659.5" stroke="#000070" stroke-width="1.5" fill="none" stroke-opacity="0.45"/>
<path d="M44.0,480.7 L134.0,537.2 L200.0,583.2 L246.0,625.1 L283.0,657.3" stroke="#30d0f0" stroke-width="1.4" fill="none" stroke-opacity="0.95"/>
<path d="M438.0,513.0 L307.0,613.0 L254.0,655.3" stroke="#000070" stroke-width="2.0" fill="none" stroke-opacity="0.5"/>
<path d="M438.0,515.0 L307.0,615.0 L254.0,657.3" stroke="#b84830" stroke-width="1.3" fill="none"/>
<path d="M438.0,521.8 L307.0,621.8 L254.0,664.1" stroke="#20d8f0" stroke-width="1.2" fill="none"/>
<path d="M438.0,526.0 L307.0,626.0 L254.0,668.3" stroke="#000070" stroke-width="1.4" fill="none" stroke-opacity="0.4"/>
<path d="M438.0,530.0 L307.0,630.0 L254.0,672.3" stroke="#40c8b0" stroke-width="1.1" fill="none" stroke-opacity="0.85"/>
<path d="M101.8,560.0 L160.0,585.5 L200.0,603.0" stroke="#c04040" stroke-width="1.1" fill="none" stroke-opacity="0.6"/>
<path d="M288.0,553.0 L353.5,579.0 L400.0,597.0" stroke="#c04040" stroke-width="1.0" fill="none" stroke-opacity="0.5"/>
<path d="M438.0,572.3 L408.0,584.5" stroke="#40c0a0" stroke-width="1.0" fill="none" stroke-opacity="0.6"/>
</g>
<text x="69.20" y="637.60" font-size="17.5" fill="#ffffff" stroke="#ffffff" stroke-width="0.35" font-family="'DejaVu Sans', 'Liberation Sans', sans-serif">D:</text>
<text x="124.75" y="637.20" font-size="17.5" fill="#ffffff" stroke="#ffffff" stroke-width="0.35" font-family="'DejaVu Sans', 'Liberation Sans', sans-serif">−w :</text>
<rect x="90.40" y="621.10" width="30.50" height="26.90" fill="#3e3ef2"/>
<text x="95.40" y="640.00" font-size="17.5" fill="#ffffff" stroke="#ffffff" stroke-width="0.25" font-family="'Liberation Serif', serif">0.1</text>
<rect x="166.20" y="621.10" width="29.40" height="26.90" fill="#3e3ef2"/>
<text x="170.50" y="640.00" font-size="17.5" fill="#ffffff" stroke="#ffffff" stroke-width="0.25" font-family="'Liberation Serif', serif">0.1</text>
<text x="298.20" y="637.60" font-size="17.5" fill="#ffffff" stroke="#ffffff" stroke-width="0.35" font-family="'DejaVu Sans', 'Liberation Sans', sans-serif">D:</text>
<text x="348.75" y="637.20" font-size="17.5" fill="#ffffff" stroke="#ffffff" stroke-width="0.35" font-family="'DejaVu Sans', 'Liberation Sans', sans-serif">−w :</text>
<rect x="319.10" y="617.50" width="29.10" height="29.40" fill="#3e3ef2"/>
<text x="323.40" y="639.30" font-size="17.5" fill="#ffffff" stroke="#ffffff" stroke-width="0.25" font-family="'Liberation Serif', serif">0.1</text>
<rect x="391.40" y="617.40" width="42.70" height="28.50" fill="#1010e6"/>
<text x="393.60" y="640.00" font-size="17.5" fill="#ffffff" stroke="#ffffff" stroke-width="0.25" font-family="'Liberation Sans', sans-serif">0.05</text>
<text x="42.00" y="372.10" font-size="12.2" fill="#262626" stroke="#262626" stroke-width="0.45" text-anchor="end">0</text>
<text x="42.00" y="420.22" font-size="12.2" fill="#262626" stroke="#262626" stroke-width="0.45" text-anchor="end">5</text>
<text x="42.00" y="468.33" font-size="12.2" fill="#262626" stroke="#262626" stroke-width="0.45" text-anchor="end">10</text>
<text x="42.00" y="516.45" font-size="12.2" fill="#262626" stroke="#262626" stroke-width="0.45" text-anchor="end">15</text>
<text x="42.00" y="564.57" font-size="12.2" fill="#262626" stroke="#262626" stroke-width="0.45" text-anchor="end">20</text>
<text x="42.00" y="612.68" font-size="12.2" fill="#262626" stroke="#262626" stroke-width="0.45" text-anchor="end">25</text>
<text x="42.00" y="660.80" font-size="12.2" fill="#262626" stroke="#262626" stroke-width="0.45" text-anchor="end">30</text>
<text x="44.00" y="669.00" font-size="12.2" fill="#262626" stroke="#262626" stroke-width="0.45" text-anchor="middle">0</text>
<text x="88.02" y="669.00" font-size="12.2" fill="#262626" stroke="#262626" stroke-width="0.45" text-anchor="middle">5</text>
<text x="132.04" y="669.00" font-size="12.2" fill="#262626" stroke="#262626" stroke-width="0.45" text-anchor="middle">10</text>
<text x="176.07" y="669.00" font-size="12.2" fill="#262626" stroke="#262626" stroke-width="0.45" text-anchor="middle">15</text>
<text x="220.09" y="669.00" font-size="12.2" fill="#262626" stroke="#262626" stroke-width="0.45" text-anchor="middle">20</text>
<text x="264.11" y="669.00" font-size="12.2" fill="#262626" stroke="#262626" stroke-width="0.45" text-anchor="middle">25</text>
<text x="308.13" y="669.00" font-size="12.2" fill="#262626" stroke="#262626" stroke-width="0.45" text-anchor="middle">30</text>
<text x="352.16" y="669.00" font-size="12.2" fill="#262626" stroke="#262626" stroke-width="0.45" text-anchor="middle">35</text>
<text x="396.18" y="669.00" font-size="12.2" fill="#262626" stroke="#262626" stroke-width="0.45" text-anchor="middle">40</text>
<text x="440.20" y="669.00" font-size="12.2" fill="#262626" stroke="#262626" stroke-width="0.45" text-anchor="middle">45</text>
<text x="239.40" y="681.50" font-size="12.45" fill="#262626" stroke="#262626" stroke-width="0.45" text-anchor="middle">Distance between first position of scanning and the current one in mm</text>
<text transform="translate(21.60,514.50) rotate(-90)" text-anchor="middle" font-size="12.2" fill="#262626" stroke="#262626" stroke-width="0.45">Time in μs</text>
<text x="138.00" y="366.60" font-size="12.3" fill="#262626" stroke="#262626" stroke-width="0.45">Forging - Notches(</text>
<text x="255.20" y="364.20" font-size="12" fill="#222" stroke="#222" stroke-width="0.15" font-family="'Liberation Serif', serif">0.1</text>
<text x="276.00" y="366.60" font-size="12.3" fill="#262626" stroke="#262626" stroke-width="0.45">mm depth)</text>
<rect x="464.9" y="368.4" width="14.20" height="288.90" fill="url(#jet)"/>
<text x="481.00" y="371.10" font-size="12.2" fill="#262626" stroke="#262626" stroke-width="0.45">0.0020</text>
<text x="481.00" y="399.99" font-size="12.2" fill="#262626" stroke="#262626" stroke-width="0.45">0.0018</text>
<text x="481.00" y="428.88" font-size="12.2" fill="#262626" stroke="#262626" stroke-width="0.45">0.0016</text>
<text x="481.00" y="457.77" font-size="12.2" fill="#262626" stroke="#262626" stroke-width="0.45">0.0014</text>
<text x="481.00" y="486.66" font-size="12.2" fill="#262626" stroke="#262626" stroke-width="0.45">0.0012</text>
<text x="481.00" y="515.55" font-size="12.2" fill="#262626" stroke="#262626" stroke-width="0.45">0.0010</text>
<text x="481.00" y="544.44" font-size="12.2" fill="#262626" stroke="#262626" stroke-width="0.45">0.0008</text>
<text x="481.00" y="573.33" font-size="12.2" fill="#262626" stroke="#262626" stroke-width="0.45">0.0006</text>
<text x="481.00" y="602.22" font-size="12.2" fill="#262626" stroke="#262626" stroke-width="0.45">0.0004</text>
<text x="481.00" y="631.11" font-size="12.2" fill="#262626" stroke="#262626" stroke-width="0.45">0.0002</text>
<text x="481.00" y="660.00" font-size="12.2" fill="#262626" stroke="#262626" stroke-width="0.45">0.0000</text>
<text transform="translate(536.30,513.50) rotate(-90)" text-anchor="middle" font-size="12.1" fill="#262626" stroke="#262626" stroke-width="0.45">Amplitude (V)</text>
</svg>
</body></html>
